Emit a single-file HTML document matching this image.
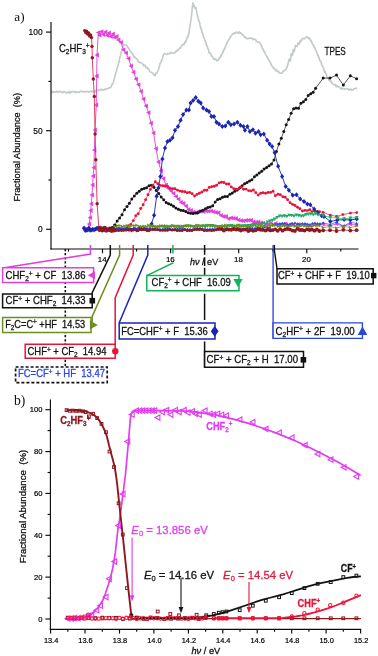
<!DOCTYPE html><html><head><meta charset="utf-8"><title>Fractional abundance</title>
<style>html,body{margin:0;padding:0;background:#fff}svg{display:block}text{font-family:"Liberation Sans", Arial, sans-serif}</style></head><body>
<svg width="378" height="656" viewBox="0 0 378 656">
<rect width="378" height="656" fill="#fff"/>
<path d="M51.0 92.0 L51.9 91.6 L52.8 92.6 L53.7 91.5 L54.6 92.3 L55.5 92.0 L56.4 91.4 L57.3 92.3 L58.2 91.4 L59.1 92.1 L60.0 91.4 L60.9 91.5 L61.8 92.1 L62.7 92.8 L63.6 91.5 L64.5 91.7 L65.4 92.4 L66.3 93.0 L67.2 92.3 L68.1 92.0 L69.0 93.1 L69.9 91.3 L70.8 92.8 L71.7 91.8 L72.6 91.5 L73.5 91.4 L74.4 91.8 L75.3 92.7 L76.2 91.5 L77.1 92.3 L78.0 92.4 L78.9 91.9 L79.8 92.2 L80.7 91.2 L81.6 91.2 L82.5 91.4 L83.4 92.2 L84.3 91.7 L85.2 91.4 L86.1 91.9 L87.0 91.6 L87.9 91.3 L88.8 92.1 L89.7 91.9 L90.6 91.0 L91.5 91.6 L92.4 91.4 L93.3 91.9 L94.2 91.5 L95.1 90.5 L96.0 91.7 L96.9 89.9 L97.8 90.4 L98.7 90.9 L99.6 89.6 L100.4 90.0 L101.3 89.0 L102.2 90.1 L103.1 90.1 L104.0 89.5 L104.8 89.8 L105.7 88.6 L106.6 89.1 L107.5 88.6 L108.3 88.4 L109.1 87.7 L109.8 87.9 L110.6 87.6 L111.3 86.1 L111.7 85.7 L112.1 83.7 L112.5 84.2 L112.9 83.3 L113.3 83.1 L113.6 81.9 L113.9 80.0 L114.1 79.4 L114.4 79.1 L114.7 77.0 L114.9 76.9 L115.1 75.5 L115.4 74.5 L115.6 73.5 L115.8 74.0 L116.0 71.9 L116.3 71.3 L116.5 70.7 L116.7 70.7 L116.9 68.3 L117.1 68.2 L117.4 67.5 L117.6 67.3 L117.9 66.3 L118.2 65.5 L118.4 63.5 L118.7 62.9 L118.9 62.0 L119.1 62.1 L119.3 61.3 L119.5 58.9 L119.7 58.1 L119.9 57.3 L120.1 56.4 L120.3 56.0 L120.5 55.4 L120.7 53.9 L120.9 52.5 L121.1 52.4 L121.4 51.4 L121.6 50.9 L121.8 50.8 L122.1 49.4 L122.3 48.2 L122.6 47.6 L122.8 46.8 L123.2 44.8 L123.7 45.7 L124.1 44.6 L124.8 44.8 L125.7 45.0 L126.2 44.9 L126.7 45.7 L127.2 45.9 L127.7 47.6 L128.2 47.3 L128.6 48.1 L129.0 49.2 L129.5 49.9 L129.9 51.0 L130.4 51.2 L131.0 51.8 L131.5 52.8 L132.1 53.4 L132.6 54.6 L133.2 54.7 L133.8 57.0 L134.4 57.2 L135.0 57.0 L135.6 57.8 L136.2 58.7 L136.9 59.3 L137.5 59.5 L138.1 61.5 L138.8 62.4 L139.5 62.0 L140.2 62.6 L140.8 62.5 L141.6 63.0 L142.3 64.0 L143.1 64.3 L143.8 65.9 L144.6 65.1 L145.3 65.4 L145.9 67.8 L146.6 67.6 L147.2 67.5 L147.8 68.9 L148.5 68.6 L149.1 70.2 L149.8 71.7 L150.4 72.1 L151.0 72.4 L151.7 72.2 L152.3 73.1 L152.9 73.3 L153.7 74.9 L154.5 74.9 L155.3 75.6 L155.7 74.0 L156.1 73.0 L156.6 73.3 L157.0 72.9 L157.4 71.8 L157.8 70.9 L158.2 70.1 L158.6 69.2 L159.0 67.4 L159.3 67.1 L159.6 65.9 L159.8 64.4 L160.1 63.6 L160.4 63.2 L160.6 62.3 L160.9 62.3 L161.2 61.9 L161.4 60.1 L161.8 60.2 L162.1 59.4 L162.5 58.5 L162.8 56.6 L163.2 55.5 L163.5 54.7 L163.9 53.8 L164.5 53.4 L165.4 54.1 L166.3 54.5 L167.2 54.2 L168.1 53.4 L169.0 53.6 L169.9 53.7 L170.8 52.2 L171.6 53.1 L172.5 53.4 L173.4 53.1 L174.3 52.9 L175.2 52.3 L175.9 51.1 L176.5 51.6 L177.2 50.1 L177.8 50.4 L178.5 50.1 L179.1 48.4 L179.8 47.8 L180.5 48.2 L181.1 47.2 L181.8 45.5 L182.4 44.8 L183.1 44.2 L183.7 45.0 L184.3 44.1 L184.8 42.1 L185.3 42.7 L185.8 42.2 L186.2 40.8 L186.5 39.4 L186.9 38.9 L187.3 37.3 L187.6 36.3 L187.9 37.2 L188.1 35.8 L188.4 34.7 L188.7 34.6 L188.9 32.8 L189.1 32.7 L189.2 31.7 L189.4 29.7 L189.5 28.9 L189.6 28.0 L189.8 27.1 L189.9 26.8 L190.0 25.3 L190.2 24.7 L190.3 23.3 L190.4 23.9 L190.6 21.9 L190.7 21.2 L190.8 20.6 L190.9 20.3 L191.1 18.5 L191.2 18.5 L191.3 16.8 L191.5 16.0 L191.6 15.1 L191.7 13.2 L191.8 13.2 L191.9 11.8 L192.0 10.5 L192.0 11.1 L192.1 9.1 L192.2 8.7 L192.3 8.3 L192.4 7.1 L192.5 5.8 L192.6 5.2 L192.7 4.4 L192.8 3.9 L192.9 2.7 L193.1 4.5 L193.3 4.8 L193.5 5.7 L193.8 6.5 L194.1 5.2 L194.4 5.8 L194.6 7.1 L194.8 8.2 L195.0 8.2 L195.4 8.2 L195.9 7.8 L196.1 8.7 L196.2 10.0 L196.4 10.4 L196.6 11.4 L196.8 12.2 L197.0 14.0 L197.2 14.4 L197.4 15.6 L197.6 16.6 L197.8 16.2 L198.0 17.6 L198.2 19.2 L198.5 19.9 L198.7 19.4 L198.9 20.3 L199.1 21.8 L199.4 21.9 L199.6 23.1 L199.9 23.7 L200.1 25.7 L200.4 26.7 L200.6 27.8 L200.9 27.3 L201.1 29.2 L201.4 30.0 L201.7 29.8 L201.9 32.1 L202.2 33.1 L202.5 32.6 L202.8 34.8 L203.1 34.6 L203.3 35.6 L203.6 37.4 L203.9 38.0 L204.2 37.6 L204.5 39.0 L204.8 40.0 L205.1 40.5 L205.3 41.1 L205.6 42.1 L205.9 43.8 L206.2 43.3 L206.5 45.2 L206.8 45.8 L207.2 45.8 L207.5 47.3 L207.8 48.6 L208.1 49.3 L208.5 49.3 L208.8 51.9 L209.1 52.3 L209.6 53.4 L210.0 52.6 L210.5 53.7 L210.9 54.0 L211.3 56.2 L211.9 56.0 L212.5 56.4 L213.1 57.6 L213.7 59.2 L214.3 59.7 L215.1 58.9 L216.0 59.1 L216.8 60.8 L217.7 60.4 L218.4 60.2 L218.9 58.3 L219.5 57.6 L220.0 58.0 L220.4 56.7 L220.9 55.3 L221.3 56.1 L221.7 54.8 L222.1 54.3 L222.5 52.1 L222.9 52.8 L223.3 50.4 L223.7 51.1 L224.1 49.5 L224.4 48.5 L224.8 48.1 L225.2 48.0 L225.6 45.9 L226.0 44.9 L226.4 44.8 L226.8 43.4 L227.2 42.4 L227.6 41.7 L228.0 40.7 L228.4 40.2 L228.9 39.6 L229.3 38.8 L229.7 38.8 L230.1 37.2 L230.7 36.9 L231.3 35.6 L231.9 35.2 L232.5 33.9 L233.2 33.8 L234.0 32.9 L234.7 33.8 L235.6 33.1 L236.4 32.1 L237.3 32.4 L238.2 33.3 L239.1 31.8 L240.0 33.2 L240.7 32.9 L241.4 33.6 L242.1 34.8 L242.8 34.6 L243.4 35.4 L244.1 36.4 L244.8 37.5 L245.4 36.9 L246.1 38.5 L246.9 38.6 L247.8 38.6 L248.7 38.4 L249.5 38.4 L250.4 38.0 L251.3 38.4 L252.2 38.4 L253.1 39.9 L254.0 39.1 L254.8 39.3 L255.6 39.5 L256.4 41.4 L257.2 41.8 L257.9 42.0 L258.6 41.8 L259.2 42.4 L259.9 43.1 L260.5 44.1 L260.9 44.3 L261.3 45.7 L261.7 46.1 L262.2 48.2 L262.6 49.0 L263.0 49.0 L263.4 49.3 L263.8 51.5 L264.1 51.0 L264.5 52.0 L264.9 52.1 L265.3 53.6 L265.7 54.6 L266.1 55.5 L266.5 55.7 L267.0 57.1 L267.4 56.9 L267.8 58.2 L268.2 58.7 L268.7 60.0 L269.1 60.1 L269.6 60.9 L270.0 62.2 L270.5 62.8 L271.0 64.3 L271.4 64.9 L271.9 66.1 L272.5 66.6 L273.1 67.4 L273.6 68.4 L274.2 68.2 L274.8 68.8 L275.5 70.6 L276.2 69.6 L276.9 71.2 L277.6 71.6 L278.4 71.0 L279.2 72.9 L280.0 73.4 L280.9 73.0 L281.7 73.1 L282.5 72.8 L283.2 70.9 L283.9 71.1 L284.5 70.4 L285.0 70.3 L285.6 69.6 L286.1 68.9 L286.7 67.7 L287.0 67.5 L287.3 66.2 L287.7 65.4 L288.0 63.7 L288.3 62.5 L288.5 61.8 L288.7 61.3 L288.9 60.0 L289.0 60.5 L289.2 59.0 L289.5 59.2 L289.8 60.0 L290.1 60.9 L290.4 60.5 L290.5 58.7 L290.6 59.3 L290.7 58.3 L290.9 57.0 L291.0 56.1 L291.1 55.5 L291.3 53.5 L291.5 55.0 L291.9 54.9 L292.2 55.4 L292.4 55.4 L292.5 55.4 L292.6 53.5 L292.8 53.7 L292.9 53.2 L293.0 51.4 L293.2 50.3 L293.3 49.6 L293.6 50.5 L294.0 51.5 L294.4 51.4 L294.5 50.6 L294.7 48.6 L294.9 47.9 L295.1 47.2 L295.2 47.2 L295.4 45.5 L295.8 46.1 L296.2 45.8 L296.7 46.6 L296.9 46.2 L297.2 46.1 L297.4 45.3 L297.7 44.4 L297.9 42.8 L298.5 43.5 L299.1 44.1 L299.5 43.4 L299.8 41.9 L300.1 42.5 L300.4 40.3 L300.9 41.1 L301.6 40.5 L302.4 38.3 L303.1 38.6 L303.9 38.8 L304.7 38.7 L305.5 37.4 L306.4 36.8 L307.2 36.7 L308.0 38.5 L308.8 37.6 L309.4 38.9 L310.0 38.8 L310.6 40.2 L311.1 41.8 L311.5 41.0 L311.9 43.1 L312.3 43.3 L312.8 44.8 L313.2 45.3 L313.6 45.2 L314.0 47.3 L314.3 47.3 L314.7 47.2 L315.1 48.0 L315.5 49.8 L315.9 50.5 L316.2 51.1 L316.6 51.6 L316.9 52.8 L317.3 53.6 L317.7 55.4 L318.0 54.6 L318.4 56.9 L318.8 57.9 L319.1 57.3 L319.5 59.7 L319.9 60.1 L320.2 61.3 L320.6 60.9 L320.9 61.9 L321.3 62.8 L321.6 64.8 L321.9 64.8 L322.2 65.3 L322.5 66.2 L322.9 66.8 L323.2 67.2 L323.5 68.1 L323.9 70.4 L324.2 70.1 L324.5 72.2 L325.0 71.7 L325.4 72.5 L325.8 73.8 L326.2 74.0 L326.6 75.2 L327.0 77.1 L327.5 77.7 L328.0 78.3 L328.5 78.7 L328.9 80.0 L329.4 80.8 L330.0 80.8 L330.7 81.7 L331.3 81.1 L331.9 83.1 L332.5 83.2 L333.2 84.4 L333.9 84.7 L334.7 84.5 L335.4 84.5 L336.2 86.7 L336.9 85.7 L337.8 86.7 L338.6 86.8 L339.4 87.0 L340.3 88.2 L341.1 89.0 L341.9 88.0 L342.8 88.9 L343.7 88.5 L344.6 89.2 L345.4 89.1 L346.3 88.8 L347.2 88.8 L348.1 88.9 L349.0 90.2 L349.9 89.5 L350.8 89.0 L351.7 90.2 L352.6 90.3 L353.5 89.2 L354.4 88.5 L355.3 88.5 L356.2 88.2 L357.1 88.6" fill="none" stroke="#c2cbc7" stroke-width="1.6" stroke-linejoin="round" />
<path d="M84.0 228.8 L85.2 229.4 L86.4 229.1 L87.6 229.1 L89.2 224.0 L90.0 217.7 L90.7 210.5 L91.3 203.8 L92.0 195.0 L92.6 185.0 L93.2 176.0 L93.8 167.7 L94.4 150.0 L95.0 130.0 L96.3 105.0 L96.7 76.0 L97.0 55.0 L98.3 32.6 L99.6 35.2 L101.6 31.6 L103.4 34.6 L105.4 31.9 L107.3 35.6 L109.0 33.0 L110.9 36.6 L112.9 34.0 L114.6 37.4 L116.6 36.4 L118.5 40.0 L121.0 42.4 L123.5 49.8 L126.0 52.9 L128.5 58.5 L131.0 66.0 L133.5 72.2 L136.0 78.9 L138.5 84.7 L141.0 91.3 L143.5 98.9 L146.0 106.0 L148.5 112.6 L151.0 123.2 L153.5 132.9 L156.0 148.6 L158.5 162.0 L161.0 170.7 L163.5 178.6 L166.0 184.9 L168.5 188.4 L171.0 190.9 L173.5 193.4 L176.0 196.4 L178.5 199.2 L181.0 202.3 L183.5 203.5 L186.0 206.1 L188.5 209.5 L191.0 210.4 L193.5 212.0 L196.0 212.7 L198.5 211.3 L201.0 211.1 L203.5 211.6 L206.0 211.0 L208.5 211.3 L211.0 210.9 L213.5 211.7 L216.0 212.5 L218.5 212.7 L221.0 215.4 L223.5 216.5 L226.0 216.5 L228.5 218.7 L231.0 217.9 L233.5 218.3 L236.0 218.5 L238.5 219.9 L241.0 220.6 L243.5 220.8 L246.0 220.3 L248.5 220.3 L251.0 220.2 L253.5 221.8 L256.0 222.1 L258.5 222.0 L261.0 223.0 L263.5 222.8 L266.0 224.0 L268.5 223.8 L271.0 223.0 L273.5 224.5 L276.0 222.9 L278.5 224.1 L281.0 224.0 L283.5 223.8 L286.0 223.5 L288.5 225.1 L291.0 223.6 L293.5 224.8 L296.0 225.7 L298.5 224.2 L301.0 224.4 L303.5 225.3 L306.0 225.1 L308.5 225.5 L311.0 225.9 L313.5 224.6 L316.0 224.9 L318.5 225.0 L323.2 224.6 L330.0 225.8 L336.5 224.0 L343.3 226.0 L350.3 224.4 L356.6 225.0" fill="none" stroke="#e23fdc" stroke-width="0.9" stroke-linejoin="round" />
<g><path d="M81.6 228.8 L85.9 226.4 L85.9 231.2Z" fill="#e23fdc"/><path d="M82.8 229.4 L87.1 227.0 L87.1 231.8Z" fill="#e23fdc"/><path d="M84.0 229.1 L88.3 226.7 L88.3 231.5Z" fill="#e23fdc"/><path d="M85.2 229.1 L89.5 226.7 L89.5 231.5Z" fill="#e23fdc"/><path d="M86.8 224.0 L91.1 221.6 L91.1 226.4Z" fill="#e23fdc"/><path d="M87.6 217.7 L91.9 215.3 L91.9 220.1Z" fill="#e23fdc"/><path d="M88.3 210.5 L92.6 208.1 L92.6 212.9Z" fill="#e23fdc"/><path d="M88.9 203.8 L93.2 201.4 L93.2 206.2Z" fill="#e23fdc"/><path d="M89.6 195.0 L93.9 192.6 L93.9 197.4Z" fill="#e23fdc"/><path d="M90.2 185.0 L94.5 182.6 L94.5 187.4Z" fill="#e23fdc"/><path d="M90.8 176.0 L95.1 173.6 L95.1 178.4Z" fill="#e23fdc"/><path d="M91.4 167.7 L95.7 165.3 L95.7 170.1Z" fill="#e23fdc"/><path d="M92.0 150.0 L96.3 147.6 L96.3 152.4Z" fill="#e23fdc"/><path d="M92.6 130.0 L96.9 127.6 L96.9 132.4Z" fill="#e23fdc"/><path d="M93.9 105.0 L98.2 102.6 L98.2 107.4Z" fill="#e23fdc"/><path d="M94.3 76.0 L98.6 73.6 L98.6 78.4Z" fill="#e23fdc"/><path d="M94.6 55.0 L98.9 52.6 L98.9 57.4Z" fill="#e23fdc"/><path d="M95.9 32.6 L100.2 30.2 L100.2 35.0Z" fill="#e23fdc"/><path d="M97.2 35.2 L101.5 32.8 L101.5 37.6Z" fill="#e23fdc"/><path d="M99.2 31.6 L103.5 29.2 L103.5 34.0Z" fill="#e23fdc"/><path d="M101.0 34.6 L105.3 32.2 L105.3 37.0Z" fill="#e23fdc"/><path d="M103.0 31.9 L107.3 29.5 L107.3 34.3Z" fill="#e23fdc"/><path d="M104.9 35.6 L109.2 33.2 L109.2 38.0Z" fill="#e23fdc"/><path d="M106.6 33.0 L110.9 30.6 L110.9 35.4Z" fill="#e23fdc"/><path d="M108.5 36.6 L112.8 34.2 L112.8 39.0Z" fill="#e23fdc"/><path d="M110.5 34.0 L114.8 31.6 L114.8 36.4Z" fill="#e23fdc"/><path d="M112.2 37.4 L116.5 35.0 L116.5 39.8Z" fill="#e23fdc"/><path d="M114.2 36.4 L118.5 34.0 L118.5 38.8Z" fill="#e23fdc"/><path d="M116.1 40.0 L120.4 37.6 L120.4 42.4Z" fill="#e23fdc"/><path d="M118.6 42.4 L122.9 40.0 L122.9 44.8Z" fill="#e23fdc"/><path d="M121.1 49.8 L125.4 47.4 L125.4 52.2Z" fill="#e23fdc"/><path d="M123.6 52.9 L127.9 50.5 L127.9 55.3Z" fill="#e23fdc"/><path d="M126.1 58.5 L130.4 56.1 L130.4 60.9Z" fill="#e23fdc"/><path d="M128.6 66.0 L132.9 63.6 L132.9 68.4Z" fill="#e23fdc"/><path d="M131.1 72.2 L135.4 69.8 L135.4 74.6Z" fill="#e23fdc"/><path d="M133.6 78.9 L137.9 76.5 L137.9 81.3Z" fill="#e23fdc"/><path d="M136.1 84.7 L140.4 82.3 L140.4 87.1Z" fill="#e23fdc"/><path d="M138.6 91.3 L142.9 88.9 L142.9 93.7Z" fill="#e23fdc"/><path d="M141.1 98.9 L145.4 96.5 L145.4 101.3Z" fill="#e23fdc"/><path d="M143.6 106.0 L147.9 103.6 L147.9 108.4Z" fill="#e23fdc"/><path d="M146.1 112.6 L150.4 110.2 L150.4 115.0Z" fill="#e23fdc"/><path d="M148.6 123.2 L152.9 120.8 L152.9 125.6Z" fill="#e23fdc"/><path d="M151.1 132.9 L155.4 130.5 L155.4 135.3Z" fill="#e23fdc"/><path d="M153.6 148.6 L157.9 146.2 L157.9 151.0Z" fill="#e23fdc"/><path d="M156.1 162.0 L160.4 159.6 L160.4 164.4Z" fill="#e23fdc"/><path d="M158.6 170.7 L162.9 168.3 L162.9 173.1Z" fill="#e23fdc"/><path d="M161.1 178.6 L165.4 176.2 L165.4 181.0Z" fill="#e23fdc"/><path d="M163.6 184.9 L167.9 182.5 L167.9 187.3Z" fill="#e23fdc"/><path d="M166.1 188.4 L170.4 186.0 L170.4 190.8Z" fill="#e23fdc"/><path d="M168.6 190.9 L172.9 188.5 L172.9 193.3Z" fill="#e23fdc"/><path d="M171.1 193.4 L175.4 191.0 L175.4 195.8Z" fill="#e23fdc"/><path d="M173.6 196.4 L177.9 194.0 L177.9 198.8Z" fill="#e23fdc"/><path d="M176.1 199.2 L180.4 196.8 L180.4 201.6Z" fill="#e23fdc"/><path d="M178.6 202.3 L182.9 199.9 L182.9 204.7Z" fill="#e23fdc"/><path d="M181.1 203.5 L185.4 201.1 L185.4 205.9Z" fill="#e23fdc"/><path d="M183.6 206.1 L187.9 203.7 L187.9 208.5Z" fill="#e23fdc"/><path d="M186.1 209.5 L190.4 207.1 L190.4 211.9Z" fill="#e23fdc"/><path d="M188.6 210.4 L192.9 208.0 L192.9 212.8Z" fill="#e23fdc"/><path d="M191.1 212.0 L195.4 209.6 L195.4 214.4Z" fill="#e23fdc"/><path d="M193.6 212.7 L197.9 210.3 L197.9 215.1Z" fill="#e23fdc"/><path d="M196.1 211.3 L200.4 208.9 L200.4 213.7Z" fill="#e23fdc"/><path d="M198.6 211.1 L202.9 208.7 L202.9 213.5Z" fill="#e23fdc"/><path d="M201.1 211.6 L205.4 209.2 L205.4 214.0Z" fill="#e23fdc"/><path d="M203.6 211.0 L207.9 208.6 L207.9 213.4Z" fill="#e23fdc"/><path d="M206.1 211.3 L210.4 208.9 L210.4 213.7Z" fill="#e23fdc"/><path d="M208.6 210.9 L212.9 208.5 L212.9 213.3Z" fill="#e23fdc"/><path d="M211.1 211.7 L215.4 209.3 L215.4 214.1Z" fill="#e23fdc"/><path d="M213.6 212.5 L217.9 210.1 L217.9 214.9Z" fill="#e23fdc"/><path d="M216.1 212.7 L220.4 210.3 L220.4 215.1Z" fill="#e23fdc"/><path d="M218.6 215.4 L222.9 213.0 L222.9 217.8Z" fill="#e23fdc"/><path d="M221.1 216.5 L225.4 214.1 L225.4 218.9Z" fill="#e23fdc"/><path d="M223.6 216.5 L227.9 214.1 L227.9 218.9Z" fill="#e23fdc"/><path d="M226.1 218.7 L230.4 216.3 L230.4 221.1Z" fill="#e23fdc"/><path d="M228.6 217.9 L232.9 215.5 L232.9 220.3Z" fill="#e23fdc"/><path d="M231.1 218.3 L235.4 215.9 L235.4 220.7Z" fill="#e23fdc"/><path d="M233.6 218.5 L237.9 216.1 L237.9 220.9Z" fill="#e23fdc"/><path d="M236.1 219.9 L240.4 217.5 L240.4 222.3Z" fill="#e23fdc"/><path d="M238.6 220.6 L242.9 218.2 L242.9 223.0Z" fill="#e23fdc"/><path d="M241.1 220.8 L245.4 218.4 L245.4 223.2Z" fill="#e23fdc"/><path d="M243.6 220.3 L247.9 217.9 L247.9 222.7Z" fill="#e23fdc"/><path d="M246.1 220.3 L250.4 217.9 L250.4 222.7Z" fill="#e23fdc"/><path d="M248.6 220.2 L252.9 217.8 L252.9 222.6Z" fill="#e23fdc"/><path d="M251.1 221.8 L255.4 219.4 L255.4 224.2Z" fill="#e23fdc"/><path d="M253.6 222.1 L257.9 219.7 L257.9 224.5Z" fill="#e23fdc"/><path d="M256.1 222.0 L260.4 219.6 L260.4 224.4Z" fill="#e23fdc"/><path d="M258.6 223.0 L262.9 220.6 L262.9 225.4Z" fill="#e23fdc"/></g>
<g><path d="M261.6 222.8 L265.0 220.9 L265.0 224.7Z" fill="#e23fdc"/><path d="M264.1 224.0 L267.5 222.1 L267.5 225.9Z" fill="#e23fdc"/><path d="M266.6 223.8 L270.0 221.9 L270.0 225.7Z" fill="#e23fdc"/><path d="M269.1 223.0 L272.5 221.1 L272.5 224.9Z" fill="#e23fdc"/><path d="M271.6 224.5 L275.0 222.6 L275.0 226.4Z" fill="#e23fdc"/><path d="M274.1 222.9 L277.5 221.0 L277.5 224.8Z" fill="#e23fdc"/><path d="M276.6 224.1 L280.0 222.2 L280.0 226.0Z" fill="#e23fdc"/><path d="M279.1 224.0 L282.5 222.1 L282.5 225.9Z" fill="#e23fdc"/><path d="M281.6 223.8 L285.0 221.9 L285.0 225.7Z" fill="#e23fdc"/><path d="M284.1 223.5 L287.5 221.6 L287.5 225.4Z" fill="#e23fdc"/><path d="M286.6 225.1 L290.0 223.2 L290.0 227.0Z" fill="#e23fdc"/><path d="M289.1 223.6 L292.5 221.7 L292.5 225.5Z" fill="#e23fdc"/><path d="M291.6 224.8 L295.0 222.9 L295.0 226.7Z" fill="#e23fdc"/><path d="M294.1 225.7 L297.5 223.8 L297.5 227.6Z" fill="#e23fdc"/><path d="M296.6 224.2 L300.0 222.3 L300.0 226.1Z" fill="#e23fdc"/><path d="M299.1 224.4 L302.5 222.5 L302.5 226.3Z" fill="#e23fdc"/><path d="M301.6 225.3 L305.0 223.4 L305.0 227.2Z" fill="#e23fdc"/><path d="M304.1 225.1 L307.5 223.2 L307.5 227.0Z" fill="#e23fdc"/><path d="M306.6 225.5 L310.0 223.6 L310.0 227.4Z" fill="#e23fdc"/><path d="M309.1 225.9 L312.5 224.0 L312.5 227.8Z" fill="#e23fdc"/><path d="M311.6 224.6 L315.0 222.7 L315.0 226.5Z" fill="#e23fdc"/><path d="M314.1 224.9 L317.5 223.0 L317.5 226.8Z" fill="#e23fdc"/><path d="M316.6 225.0 L320.0 223.1 L320.0 226.9Z" fill="#e23fdc"/><path d="M321.3 224.6 L324.7 222.7 L324.7 226.5Z" fill="#e23fdc"/><path d="M328.1 225.8 L331.5 223.9 L331.5 227.7Z" fill="#e23fdc"/><path d="M334.6 224.0 L338.0 222.1 L338.0 225.9Z" fill="#e23fdc"/><path d="M341.4 226.0 L344.8 224.1 L344.8 227.9Z" fill="#e23fdc"/><path d="M348.4 224.4 L351.8 222.5 L351.8 226.3Z" fill="#e23fdc"/><path d="M354.7 225.0 L358.1 223.1 L358.1 226.9Z" fill="#e23fdc"/></g>
<path d="M100.0 229.0 L102.5 229.7 L104.9 229.2 L107.3 229.5 L109.8 228.1 L112.2 227.6 L114.7 225.1 L117.2 220.9 L119.6 218.0 L122.0 214.7 L124.5 209.7 L127.0 206.6 L129.4 203.3 L131.8 198.9 L134.3 195.9 L136.8 193.2 L139.2 191.2 L141.7 189.2 L144.1 188.6 L146.6 187.7 L149.0 185.8 L151.4 185.2 L153.9 187.3 L156.3 190.5 L158.8 193.6 L161.2 197.1 L163.7 199.7 L166.2 202.5 L168.6 203.7 L171.1 204.7 L173.5 206.2 L175.9 207.9 L178.4 209.3 L180.9 210.3 L183.3 210.6 L185.8 211.5 L188.2 212.8 L190.7 213.3 L193.1 213.6 L195.6 212.9 L198.0 212.7 L200.4 211.2 L202.9 210.2 L205.4 208.7 L207.8 207.6 L210.2 206.9 L212.7 205.8 L215.2 202.0 L217.6 199.4 L220.1 198.7 L222.5 197.2 L224.9 196.4 L227.4 196.4 L229.9 194.3 L232.3 193.1 L234.8 191.2 L237.2 190.1 L239.7 187.8 L242.1 185.7 L244.6 183.8 L247.0 182.6 L249.5 181.1 L251.9 179.8 L254.4 176.8 L256.8 175.1 L259.2 173.0 L261.7 171.3 L264.1 169.1 L266.6 167.4 L269.1 165.8 L271.5 164.0 L274.0 160.0 L276.4 151.5 L278.9 144.1 L281.3 138.2 L283.8 131.6 L286.2 124.7 L288.6 119.6 L291.1 113.3 L293.6 108.8 L296.0 108.0 L298.5 108.3 L300.9 103.2 L303.4 101.7 L305.8 99.5 L308.2 95.5 L310.7 93.7 L313.1 92.2 L315.6 88.3 L323.2 78.1 L330.0 78.1 L336.5 75.1 L343.3 85.1 L350.3 75.8 L356.6 78.8" fill="none" stroke="#141414" stroke-width="0.7" stroke-linejoin="round" />
<g><circle cx="100.0" cy="229.0" r="1.50" fill="#141414"/><circle cx="102.5" cy="229.7" r="1.50" fill="#141414"/><circle cx="104.9" cy="229.2" r="1.50" fill="#141414"/><circle cx="107.3" cy="229.5" r="1.50" fill="#141414"/><circle cx="109.8" cy="228.1" r="1.50" fill="#141414"/><circle cx="112.2" cy="227.6" r="1.50" fill="#141414"/><circle cx="114.7" cy="225.1" r="1.50" fill="#141414"/><circle cx="117.2" cy="220.9" r="1.50" fill="#141414"/><circle cx="119.6" cy="218.0" r="1.50" fill="#141414"/><circle cx="122.0" cy="214.7" r="1.50" fill="#141414"/><circle cx="124.5" cy="209.7" r="1.50" fill="#141414"/><circle cx="127.0" cy="206.6" r="1.50" fill="#141414"/><circle cx="129.4" cy="203.3" r="1.50" fill="#141414"/><circle cx="131.8" cy="198.9" r="1.50" fill="#141414"/><circle cx="134.3" cy="195.9" r="1.50" fill="#141414"/><circle cx="136.8" cy="193.2" r="1.50" fill="#141414"/><circle cx="139.2" cy="191.2" r="1.50" fill="#141414"/><circle cx="141.7" cy="189.2" r="1.50" fill="#141414"/><circle cx="144.1" cy="188.6" r="1.50" fill="#141414"/><circle cx="146.6" cy="187.7" r="1.50" fill="#141414"/><circle cx="149.0" cy="185.8" r="1.50" fill="#141414"/><circle cx="151.4" cy="185.2" r="1.50" fill="#141414"/><circle cx="153.9" cy="187.3" r="1.50" fill="#141414"/><circle cx="156.3" cy="190.5" r="1.50" fill="#141414"/><circle cx="158.8" cy="193.6" r="1.50" fill="#141414"/><circle cx="161.2" cy="197.1" r="1.50" fill="#141414"/><circle cx="163.7" cy="199.7" r="1.50" fill="#141414"/><circle cx="166.2" cy="202.5" r="1.50" fill="#141414"/><circle cx="168.6" cy="203.7" r="1.50" fill="#141414"/><circle cx="171.1" cy="204.7" r="1.50" fill="#141414"/><circle cx="173.5" cy="206.2" r="1.50" fill="#141414"/><circle cx="175.9" cy="207.9" r="1.50" fill="#141414"/><circle cx="178.4" cy="209.3" r="1.50" fill="#141414"/><circle cx="180.9" cy="210.3" r="1.50" fill="#141414"/><circle cx="183.3" cy="210.6" r="1.50" fill="#141414"/><circle cx="185.8" cy="211.5" r="1.50" fill="#141414"/><circle cx="188.2" cy="212.8" r="1.50" fill="#141414"/><circle cx="190.7" cy="213.3" r="1.50" fill="#141414"/><circle cx="193.1" cy="213.6" r="1.50" fill="#141414"/><circle cx="195.6" cy="212.9" r="1.50" fill="#141414"/><circle cx="198.0" cy="212.7" r="1.50" fill="#141414"/><circle cx="200.4" cy="211.2" r="1.50" fill="#141414"/><circle cx="202.9" cy="210.2" r="1.50" fill="#141414"/><circle cx="205.4" cy="208.7" r="1.50" fill="#141414"/><circle cx="207.8" cy="207.6" r="1.50" fill="#141414"/><circle cx="210.2" cy="206.9" r="1.50" fill="#141414"/><circle cx="212.7" cy="205.8" r="1.50" fill="#141414"/><circle cx="215.2" cy="202.0" r="1.50" fill="#141414"/><circle cx="217.6" cy="199.4" r="1.50" fill="#141414"/><circle cx="220.1" cy="198.7" r="1.50" fill="#141414"/><circle cx="222.5" cy="197.2" r="1.50" fill="#141414"/><circle cx="224.9" cy="196.4" r="1.50" fill="#141414"/><circle cx="227.4" cy="196.4" r="1.50" fill="#141414"/><circle cx="229.9" cy="194.3" r="1.50" fill="#141414"/><circle cx="232.3" cy="193.1" r="1.50" fill="#141414"/><circle cx="234.8" cy="191.2" r="1.50" fill="#141414"/><circle cx="237.2" cy="190.1" r="1.50" fill="#141414"/><circle cx="239.7" cy="187.8" r="1.50" fill="#141414"/><circle cx="242.1" cy="185.7" r="1.50" fill="#141414"/><circle cx="244.6" cy="183.8" r="1.50" fill="#141414"/><circle cx="247.0" cy="182.6" r="1.50" fill="#141414"/><circle cx="249.5" cy="181.1" r="1.50" fill="#141414"/><circle cx="251.9" cy="179.8" r="1.50" fill="#141414"/><circle cx="254.4" cy="176.8" r="1.50" fill="#141414"/><circle cx="256.8" cy="175.1" r="1.50" fill="#141414"/><circle cx="259.2" cy="173.0" r="1.50" fill="#141414"/><circle cx="261.7" cy="171.3" r="1.50" fill="#141414"/><circle cx="264.1" cy="169.1" r="1.50" fill="#141414"/><circle cx="266.6" cy="167.4" r="1.50" fill="#141414"/><circle cx="269.1" cy="165.8" r="1.50" fill="#141414"/><circle cx="271.5" cy="164.0" r="1.50" fill="#141414"/><circle cx="274.0" cy="160.0" r="1.50" fill="#141414"/><circle cx="276.4" cy="151.5" r="1.50" fill="#141414"/><circle cx="278.9" cy="144.1" r="1.50" fill="#141414"/><circle cx="281.3" cy="138.2" r="1.50" fill="#141414"/><circle cx="283.8" cy="131.6" r="1.50" fill="#141414"/><circle cx="286.2" cy="124.7" r="1.50" fill="#141414"/><circle cx="288.6" cy="119.6" r="1.50" fill="#141414"/><circle cx="291.1" cy="113.3" r="1.50" fill="#141414"/><circle cx="293.6" cy="108.8" r="1.50" fill="#141414"/><circle cx="296.0" cy="108.0" r="1.50" fill="#141414"/><circle cx="298.5" cy="108.3" r="1.50" fill="#141414"/><circle cx="300.9" cy="103.2" r="1.50" fill="#141414"/><circle cx="303.4" cy="101.7" r="1.50" fill="#141414"/><circle cx="305.8" cy="99.5" r="1.50" fill="#141414"/><circle cx="308.2" cy="95.5" r="1.50" fill="#141414"/><circle cx="310.7" cy="93.7" r="1.50" fill="#141414"/><circle cx="313.1" cy="92.2" r="1.50" fill="#141414"/><circle cx="315.6" cy="88.3" r="1.50" fill="#141414"/><circle cx="323.2" cy="78.1" r="1.50" fill="#141414"/><circle cx="330.0" cy="78.1" r="1.50" fill="#141414"/><circle cx="336.5" cy="75.1" r="1.50" fill="#141414"/><circle cx="343.3" cy="85.1" r="1.50" fill="#141414"/><circle cx="350.3" cy="75.8" r="1.50" fill="#141414"/><circle cx="356.6" cy="78.8" r="1.50" fill="#141414"/></g>
<path d="M99.0 229.3 L101.5 230.1 L103.9 230.0 L106.3 228.8 L108.8 228.9 L111.2 229.2 L113.7 229.4 L116.2 229.1 L118.6 228.6 L121.0 228.8 L123.5 229.6 L126.0 229.2 L128.4 225.8 L130.8 224.4 L133.3 220.6 L135.8 215.8 L138.2 213.8 L140.7 208.5 L143.1 204.8 L145.6 199.8 L148.0 194.8 L150.4 189.4 L152.9 185.3 L155.3 181.7 L157.8 183.7 L160.2 185.4 L162.7 185.8 L165.2 186.3 L167.6 186.5 L170.1 188.4 L172.5 188.7 L174.9 188.7 L177.4 190.1 L179.9 191.1 L182.3 191.5 L184.8 191.8 L187.2 192.7 L189.7 192.4 L192.1 193.8 L194.6 196.0 L197.0 194.4 L199.4 193.2 L201.9 192.0 L204.4 190.2 L206.8 190.2 L209.2 187.4 L211.7 186.8 L214.2 186.3 L216.6 185.2 L219.1 182.9 L221.5 182.2 L223.9 182.5 L226.4 184.0 L228.9 184.0 L231.3 186.9 L233.8 188.8 L236.2 189.3 L238.7 188.9 L241.1 187.3 L243.6 189.2 L246.0 189.1 L248.5 190.6 L250.9 190.9 L253.4 190.0 L255.8 192.6 L258.2 195.0 L260.7 193.2 L263.1 192.7 L265.6 193.3 L268.1 192.5 L270.5 192.4 L273.0 191.2 L275.4 195.7 L277.9 194.3 L280.3 194.8 L282.8 196.7 L285.2 197.2 L287.6 199.7 L290.1 202.7 L292.6 204.4 L295.0 205.5 L297.5 207.3 L299.9 208.7 L302.4 211.0 L304.8 210.4 L307.2 210.6 L309.7 209.7 L312.1 211.6 L314.6 210.9 L317.1 211.5 L319.5 211.6 L323.2 212.4 L330.3 215.1 L336.6 216.4 L342.9 214.6 L350.4 213.1 L356.7 212.6" fill="none" stroke="#e81438" stroke-width="0.7" stroke-linejoin="round" />
<g><circle cx="99.0" cy="229.3" r="1.45" fill="#e81438"/><circle cx="101.5" cy="230.1" r="1.45" fill="#e81438"/><circle cx="103.9" cy="230.0" r="1.45" fill="#e81438"/><circle cx="106.3" cy="228.8" r="1.45" fill="#e81438"/><circle cx="108.8" cy="228.9" r="1.45" fill="#e81438"/><circle cx="111.2" cy="229.2" r="1.45" fill="#e81438"/><circle cx="113.7" cy="229.4" r="1.45" fill="#e81438"/><circle cx="116.2" cy="229.1" r="1.45" fill="#e81438"/><circle cx="118.6" cy="228.6" r="1.45" fill="#e81438"/><circle cx="121.0" cy="228.8" r="1.45" fill="#e81438"/><circle cx="123.5" cy="229.6" r="1.45" fill="#e81438"/><circle cx="126.0" cy="229.2" r="1.45" fill="#e81438"/><circle cx="128.4" cy="225.8" r="1.45" fill="#e81438"/><circle cx="130.8" cy="224.4" r="1.45" fill="#e81438"/><circle cx="133.3" cy="220.6" r="1.45" fill="#e81438"/><circle cx="135.8" cy="215.8" r="1.45" fill="#e81438"/><circle cx="138.2" cy="213.8" r="1.45" fill="#e81438"/><circle cx="140.7" cy="208.5" r="1.45" fill="#e81438"/><circle cx="143.1" cy="204.8" r="1.45" fill="#e81438"/><circle cx="145.6" cy="199.8" r="1.45" fill="#e81438"/><circle cx="148.0" cy="194.8" r="1.45" fill="#e81438"/><circle cx="150.4" cy="189.4" r="1.45" fill="#e81438"/><circle cx="152.9" cy="185.3" r="1.45" fill="#e81438"/><circle cx="155.3" cy="181.7" r="1.45" fill="#e81438"/><circle cx="157.8" cy="183.7" r="1.45" fill="#e81438"/><circle cx="160.2" cy="185.4" r="1.45" fill="#e81438"/><circle cx="162.7" cy="185.8" r="1.45" fill="#e81438"/><circle cx="165.2" cy="186.3" r="1.45" fill="#e81438"/><circle cx="167.6" cy="186.5" r="1.45" fill="#e81438"/><circle cx="170.1" cy="188.4" r="1.45" fill="#e81438"/><circle cx="172.5" cy="188.7" r="1.45" fill="#e81438"/><circle cx="174.9" cy="188.7" r="1.45" fill="#e81438"/><circle cx="177.4" cy="190.1" r="1.45" fill="#e81438"/><circle cx="179.9" cy="191.1" r="1.45" fill="#e81438"/><circle cx="182.3" cy="191.5" r="1.45" fill="#e81438"/><circle cx="184.8" cy="191.8" r="1.45" fill="#e81438"/><circle cx="187.2" cy="192.7" r="1.45" fill="#e81438"/><circle cx="189.7" cy="192.4" r="1.45" fill="#e81438"/><circle cx="192.1" cy="193.8" r="1.45" fill="#e81438"/><circle cx="194.6" cy="196.0" r="1.45" fill="#e81438"/><circle cx="197.0" cy="194.4" r="1.45" fill="#e81438"/><circle cx="199.4" cy="193.2" r="1.45" fill="#e81438"/><circle cx="201.9" cy="192.0" r="1.45" fill="#e81438"/><circle cx="204.4" cy="190.2" r="1.45" fill="#e81438"/><circle cx="206.8" cy="190.2" r="1.45" fill="#e81438"/><circle cx="209.2" cy="187.4" r="1.45" fill="#e81438"/><circle cx="211.7" cy="186.8" r="1.45" fill="#e81438"/><circle cx="214.2" cy="186.3" r="1.45" fill="#e81438"/><circle cx="216.6" cy="185.2" r="1.45" fill="#e81438"/><circle cx="219.1" cy="182.9" r="1.45" fill="#e81438"/><circle cx="221.5" cy="182.2" r="1.45" fill="#e81438"/><circle cx="223.9" cy="182.5" r="1.45" fill="#e81438"/><circle cx="226.4" cy="184.0" r="1.45" fill="#e81438"/><circle cx="228.9" cy="184.0" r="1.45" fill="#e81438"/><circle cx="231.3" cy="186.9" r="1.45" fill="#e81438"/><circle cx="233.8" cy="188.8" r="1.45" fill="#e81438"/><circle cx="236.2" cy="189.3" r="1.45" fill="#e81438"/><circle cx="238.7" cy="188.9" r="1.45" fill="#e81438"/><circle cx="241.1" cy="187.3" r="1.45" fill="#e81438"/><circle cx="243.6" cy="189.2" r="1.45" fill="#e81438"/><circle cx="246.0" cy="189.1" r="1.45" fill="#e81438"/><circle cx="248.5" cy="190.6" r="1.45" fill="#e81438"/><circle cx="250.9" cy="190.9" r="1.45" fill="#e81438"/><circle cx="253.4" cy="190.0" r="1.45" fill="#e81438"/><circle cx="255.8" cy="192.6" r="1.45" fill="#e81438"/><circle cx="258.2" cy="195.0" r="1.45" fill="#e81438"/><circle cx="260.7" cy="193.2" r="1.45" fill="#e81438"/><circle cx="263.1" cy="192.7" r="1.45" fill="#e81438"/><circle cx="265.6" cy="193.3" r="1.45" fill="#e81438"/><circle cx="268.1" cy="192.5" r="1.45" fill="#e81438"/><circle cx="270.5" cy="192.4" r="1.45" fill="#e81438"/><circle cx="273.0" cy="191.2" r="1.45" fill="#e81438"/><circle cx="275.4" cy="195.7" r="1.45" fill="#e81438"/><circle cx="277.9" cy="194.3" r="1.45" fill="#e81438"/><circle cx="280.3" cy="194.8" r="1.45" fill="#e81438"/><circle cx="282.8" cy="196.7" r="1.45" fill="#e81438"/><circle cx="285.2" cy="197.2" r="1.45" fill="#e81438"/><circle cx="287.6" cy="199.7" r="1.45" fill="#e81438"/><circle cx="290.1" cy="202.7" r="1.45" fill="#e81438"/><circle cx="292.6" cy="204.4" r="1.45" fill="#e81438"/><circle cx="295.0" cy="205.5" r="1.45" fill="#e81438"/><circle cx="297.5" cy="207.3" r="1.45" fill="#e81438"/><circle cx="299.9" cy="208.7" r="1.45" fill="#e81438"/><circle cx="302.4" cy="211.0" r="1.45" fill="#e81438"/><circle cx="304.8" cy="210.4" r="1.45" fill="#e81438"/><circle cx="307.2" cy="210.6" r="1.45" fill="#e81438"/><circle cx="309.7" cy="209.7" r="1.45" fill="#e81438"/><circle cx="312.1" cy="211.6" r="1.45" fill="#e81438"/><circle cx="314.6" cy="210.9" r="1.45" fill="#e81438"/><circle cx="317.1" cy="211.5" r="1.45" fill="#e81438"/><circle cx="319.5" cy="211.6" r="1.45" fill="#e81438"/><circle cx="323.2" cy="212.4" r="1.45" fill="#e81438"/><circle cx="330.3" cy="215.1" r="1.45" fill="#e81438"/><circle cx="336.6" cy="216.4" r="1.45" fill="#e81438"/><circle cx="342.9" cy="214.6" r="1.45" fill="#e81438"/><circle cx="350.4" cy="213.1" r="1.45" fill="#e81438"/><circle cx="356.7" cy="212.6" r="1.45" fill="#e81438"/></g>
<path d="M84.0 228.0 L85.2 230.4 L86.5 230.1 L87.8 229.9 L89.0 227.9 L90.2 230.3 L91.5 230.0 L92.8 229.2 L94.0 230.0 L95.2 229.2 L96.5 228.5 L97.8 228.2 L99.0 228.6 L100.2 228.0 L101.5 229.0 L104.0 229.7 L106.5 229.6 L109.0 229.9 L111.5 229.6 L114.0 228.9 L116.5 229.4 L119.0 229.2 L121.5 229.8 L124.0 229.3 L126.5 228.9 L129.0 229.5 L131.5 230.0 L134.0 228.8 L136.5 229.9 L139.0 228.5 L141.5 228.9 L144.0 228.9 L146.5 229.7 L149.0 230.0 L151.6 224.0 L154.1 215.2 L156.6 196.3 L158.4 188.0 L160.4 176.5 L162.4 159.0 L165.0 148.0 L167.5 141.5 L170.0 140.3 L172.5 137.8 L175.0 130.2 L178.0 126.5 L180.6 120.2 L183.1 114.6 L186.4 110.1 L188.9 110.1 L190.6 103.1 L193.1 100.6 L195.7 97.6 L198.4 101.3 L200.7 103.1 L203.2 108.1 L206.5 110.1 L209.0 111.4 L211.5 116.4 L214.0 116.4 L216.5 122.2 L219.0 124.0 L222.3 126.5 L225.3 126.0 L228.3 122.2 L230.8 124.7 L234.1 124.0 L237.4 122.2 L240.4 125.2 L243.4 126.5 L244.9 130.2 L247.4 126.5 L249.9 131.5 L252.9 129.8 L255.5 133.3 L258.5 131.5 L260.6 134.7 L263.8 133.9 L267.1 140.2 L269.6 144.0 L272.1 146.5 L274.6 152.8 L278.1 166.3 L282.1 176.4 L285.7 186.4 L288.9 190.2 L292.7 195.2 L296.5 194.7 L300.2 199.0 L304.0 201.5 L307.3 204.0 L310.3 204.8 L314.1 209.0 L317.8 212.8 L321.6 215.8 L324.0 216.4 L330.3 221.4 L337.3 220.1 L344.1 219.6 L350.4 220.1 L356.7 218.9" fill="none" stroke="#1a26b0" stroke-width="0.9" stroke-linejoin="round" />
<g><path d="M84.0 225.6 L86.0 228.0 L84.0 230.5 L82.0 228.0Z" fill="#1a26b0"/><path d="M85.2 227.9 L87.3 230.4 L85.2 232.9 L83.2 230.4Z" fill="#1a26b0"/><path d="M86.5 227.6 L88.5 230.1 L86.5 232.6 L84.5 230.1Z" fill="#1a26b0"/><path d="M87.8 227.4 L89.8 229.9 L87.8 232.4 L85.7 229.9Z" fill="#1a26b0"/><path d="M89.0 225.5 L91.0 227.9 L89.0 230.4 L87.0 227.9Z" fill="#1a26b0"/><path d="M90.2 227.8 L92.3 230.3 L90.2 232.7 L88.2 230.3Z" fill="#1a26b0"/><path d="M91.5 227.5 L93.5 230.0 L91.5 232.4 L89.5 230.0Z" fill="#1a26b0"/><path d="M92.8 226.7 L94.8 229.2 L92.8 231.7 L90.7 229.2Z" fill="#1a26b0"/><path d="M94.0 227.5 L96.0 230.0 L94.0 232.4 L92.0 230.0Z" fill="#1a26b0"/><path d="M95.2 226.7 L97.3 229.2 L95.2 231.6 L93.2 229.2Z" fill="#1a26b0"/><path d="M96.5 226.1 L98.5 228.5 L96.5 231.0 L94.5 228.5Z" fill="#1a26b0"/><path d="M97.8 225.7 L99.8 228.2 L97.8 230.7 L95.7 228.2Z" fill="#1a26b0"/><path d="M99.0 226.1 L101.0 228.6 L99.0 231.0 L97.0 228.6Z" fill="#1a26b0"/><path d="M100.2 225.5 L102.3 228.0 L100.2 230.5 L98.2 228.0Z" fill="#1a26b0"/><path d="M101.5 226.6 L103.5 229.0 L101.5 231.5 L99.5 229.0Z" fill="#1a26b0"/><path d="M104.0 227.2 L106.0 229.7 L104.0 232.2 L102.0 229.7Z" fill="#1a26b0"/><path d="M106.5 227.2 L108.5 229.6 L106.5 232.1 L104.5 229.6Z" fill="#1a26b0"/><path d="M109.0 227.4 L111.0 229.9 L109.0 232.3 L107.0 229.9Z" fill="#1a26b0"/><path d="M111.5 227.2 L113.5 229.6 L111.5 232.1 L109.5 229.6Z" fill="#1a26b0"/><path d="M114.0 226.5 L116.0 228.9 L114.0 231.4 L112.0 228.9Z" fill="#1a26b0"/><path d="M116.5 226.9 L118.5 229.4 L116.5 231.8 L114.5 229.4Z" fill="#1a26b0"/><path d="M119.0 226.7 L121.0 229.2 L119.0 231.7 L117.0 229.2Z" fill="#1a26b0"/><path d="M121.5 227.3 L123.5 229.8 L121.5 232.2 L119.5 229.8Z" fill="#1a26b0"/><path d="M124.0 226.9 L126.0 229.3 L124.0 231.8 L122.0 229.3Z" fill="#1a26b0"/><path d="M126.5 226.5 L128.6 228.9 L126.5 231.4 L124.5 228.9Z" fill="#1a26b0"/><path d="M129.0 227.1 L131.1 229.5 L129.0 232.0 L127.0 229.5Z" fill="#1a26b0"/><path d="M131.5 227.6 L133.6 230.0 L131.5 232.5 L129.4 230.0Z" fill="#1a26b0"/><path d="M134.0 226.4 L136.1 228.8 L134.0 231.3 L131.9 228.8Z" fill="#1a26b0"/><path d="M136.5 227.4 L138.6 229.9 L136.5 232.4 L134.4 229.9Z" fill="#1a26b0"/><path d="M139.0 226.1 L141.1 228.5 L139.0 231.0 L136.9 228.5Z" fill="#1a26b0"/><path d="M141.5 226.5 L143.6 228.9 L141.5 231.4 L139.4 228.9Z" fill="#1a26b0"/><path d="M144.0 226.4 L146.1 228.9 L144.0 231.3 L141.9 228.9Z" fill="#1a26b0"/><path d="M146.5 227.2 L148.6 229.7 L146.5 232.2 L144.4 229.7Z" fill="#1a26b0"/><path d="M149.0 227.6 L151.1 230.0 L149.0 232.5 L146.9 230.0Z" fill="#1a26b0"/><path d="M151.6 221.5 L153.7 224.0 L151.6 226.5 L149.5 224.0Z" fill="#1a26b0"/><path d="M154.1 212.7 L156.2 215.2 L154.1 217.7 L152.0 215.2Z" fill="#1a26b0"/><path d="M156.6 193.8 L158.7 196.3 L156.6 198.8 L154.5 196.3Z" fill="#1a26b0"/><path d="M158.4 185.5 L160.5 188.0 L158.4 190.5 L156.3 188.0Z" fill="#1a26b0"/><path d="M160.4 174.0 L162.5 176.5 L160.4 179.0 L158.3 176.5Z" fill="#1a26b0"/><path d="M162.4 156.5 L164.5 159.0 L162.4 161.5 L160.3 159.0Z" fill="#1a26b0"/><path d="M165.0 145.5 L167.1 148.0 L165.0 150.5 L162.9 148.0Z" fill="#1a26b0"/><path d="M167.5 139.0 L169.6 141.5 L167.5 144.0 L165.4 141.5Z" fill="#1a26b0"/><path d="M170.0 137.8 L172.1 140.3 L170.0 142.8 L167.9 140.3Z" fill="#1a26b0"/><path d="M172.5 135.3 L174.6 137.8 L172.5 140.3 L170.4 137.8Z" fill="#1a26b0"/><path d="M175.0 127.7 L177.1 130.2 L175.0 132.7 L172.9 130.2Z" fill="#1a26b0"/><path d="M178.0 124.0 L180.1 126.5 L178.0 129.0 L175.9 126.5Z" fill="#1a26b0"/><path d="M180.6 117.7 L182.7 120.2 L180.6 122.7 L178.5 120.2Z" fill="#1a26b0"/><path d="M183.1 112.1 L185.2 114.6 L183.1 117.1 L181.0 114.6Z" fill="#1a26b0"/><path d="M186.4 107.6 L188.5 110.1 L186.4 112.6 L184.3 110.1Z" fill="#1a26b0"/><path d="M188.9 107.6 L191.0 110.1 L188.9 112.6 L186.8 110.1Z" fill="#1a26b0"/><path d="M190.6 100.6 L192.7 103.1 L190.6 105.6 L188.5 103.1Z" fill="#1a26b0"/><path d="M193.1 98.1 L195.2 100.6 L193.1 103.1 L191.0 100.6Z" fill="#1a26b0"/><path d="M195.7 95.1 L197.8 97.6 L195.7 100.1 L193.6 97.6Z" fill="#1a26b0"/><path d="M198.4 98.8 L200.5 101.3 L198.4 103.8 L196.3 101.3Z" fill="#1a26b0"/><path d="M200.7 100.6 L202.8 103.1 L200.7 105.6 L198.6 103.1Z" fill="#1a26b0"/><path d="M203.2 105.6 L205.2 108.1 L203.2 110.6 L201.1 108.1Z" fill="#1a26b0"/><path d="M206.5 107.6 L208.6 110.1 L206.5 112.6 L204.4 110.1Z" fill="#1a26b0"/><path d="M209.0 108.9 L211.1 111.4 L209.0 113.9 L206.9 111.4Z" fill="#1a26b0"/><path d="M211.5 113.9 L213.6 116.4 L211.5 118.9 L209.4 116.4Z" fill="#1a26b0"/><path d="M214.0 113.9 L216.1 116.4 L214.0 118.9 L211.9 116.4Z" fill="#1a26b0"/><path d="M216.5 119.7 L218.6 122.2 L216.5 124.7 L214.4 122.2Z" fill="#1a26b0"/><path d="M219.0 121.5 L221.1 124.0 L219.0 126.5 L216.9 124.0Z" fill="#1a26b0"/><path d="M222.3 124.0 L224.4 126.5 L222.3 129.0 L220.2 126.5Z" fill="#1a26b0"/><path d="M225.3 123.5 L227.4 126.0 L225.3 128.5 L223.2 126.0Z" fill="#1a26b0"/><path d="M228.3 119.7 L230.4 122.2 L228.3 124.7 L226.2 122.2Z" fill="#1a26b0"/><path d="M230.8 122.2 L232.9 124.7 L230.8 127.2 L228.8 124.7Z" fill="#1a26b0"/><path d="M234.1 121.5 L236.2 124.0 L234.1 126.5 L232.0 124.0Z" fill="#1a26b0"/><path d="M237.4 119.7 L239.5 122.2 L237.4 124.7 L235.3 122.2Z" fill="#1a26b0"/><path d="M240.4 122.7 L242.5 125.2 L240.4 127.7 L238.3 125.2Z" fill="#1a26b0"/><path d="M243.4 124.0 L245.5 126.5 L243.4 129.0 L241.3 126.5Z" fill="#1a26b0"/><path d="M244.9 127.7 L247.0 130.2 L244.9 132.7 L242.8 130.2Z" fill="#1a26b0"/><path d="M247.4 124.0 L249.5 126.5 L247.4 129.0 L245.3 126.5Z" fill="#1a26b0"/><path d="M249.9 129.0 L252.0 131.5 L249.9 134.0 L247.8 131.5Z" fill="#1a26b0"/><path d="M252.9 127.3 L255.0 129.8 L252.9 132.3 L250.8 129.8Z" fill="#1a26b0"/><path d="M255.5 130.8 L257.6 133.3 L255.5 135.8 L253.4 133.3Z" fill="#1a26b0"/><path d="M258.5 129.0 L260.6 131.5 L258.5 134.0 L256.4 131.5Z" fill="#1a26b0"/><path d="M260.6 132.2 L262.7 134.7 L260.6 137.2 L258.6 134.7Z" fill="#1a26b0"/><path d="M263.8 131.4 L265.9 133.9 L263.8 136.4 L261.8 133.9Z" fill="#1a26b0"/><path d="M267.1 137.7 L269.2 140.2 L267.1 142.7 L265.1 140.2Z" fill="#1a26b0"/><path d="M269.6 141.5 L271.7 144.0 L269.6 146.5 L267.6 144.0Z" fill="#1a26b0"/><path d="M272.1 144.0 L274.2 146.5 L272.1 149.0 L270.1 146.5Z" fill="#1a26b0"/><path d="M274.6 150.3 L276.7 152.8 L274.6 155.3 L272.6 152.8Z" fill="#1a26b0"/><path d="M278.1 163.8 L280.2 166.3 L278.1 168.8 L276.1 166.3Z" fill="#1a26b0"/><path d="M282.1 173.9 L284.2 176.4 L282.1 178.9 L280.1 176.4Z" fill="#1a26b0"/><path d="M285.7 183.9 L287.8 186.4 L285.7 188.9 L283.6 186.4Z" fill="#1a26b0"/><path d="M288.9 187.7 L290.9 190.2 L288.9 192.7 L286.8 190.2Z" fill="#1a26b0"/><path d="M292.7 192.7 L294.8 195.2 L292.7 197.7 L290.6 195.2Z" fill="#1a26b0"/><path d="M296.5 192.2 L298.6 194.7 L296.5 197.2 L294.4 194.7Z" fill="#1a26b0"/><path d="M300.2 196.5 L302.2 199.0 L300.2 201.5 L298.1 199.0Z" fill="#1a26b0"/><path d="M304.0 199.0 L306.1 201.5 L304.0 204.0 L301.9 201.5Z" fill="#1a26b0"/><path d="M307.3 201.5 L309.4 204.0 L307.3 206.5 L305.2 204.0Z" fill="#1a26b0"/><path d="M310.3 202.3 L312.4 204.8 L310.3 207.3 L308.2 204.8Z" fill="#1a26b0"/><path d="M314.1 206.5 L316.2 209.0 L314.1 211.5 L312.1 209.0Z" fill="#1a26b0"/><path d="M317.8 210.3 L319.9 212.8 L317.8 215.3 L315.8 212.8Z" fill="#1a26b0"/><path d="M321.6 213.3 L323.7 215.8 L321.6 218.3 L319.6 215.8Z" fill="#1a26b0"/><path d="M324.0 213.9 L326.1 216.4 L324.0 218.9 L321.9 216.4Z" fill="#1a26b0"/><path d="M330.3 218.9 L332.4 221.4 L330.3 223.9 L328.2 221.4Z" fill="#1a26b0"/><path d="M337.3 217.6 L339.4 220.1 L337.3 222.6 L335.2 220.1Z" fill="#1a26b0"/><path d="M344.1 217.1 L346.2 219.6 L344.1 222.1 L342.1 219.6Z" fill="#1a26b0"/><path d="M350.4 217.6 L352.4 220.1 L350.4 222.6 L348.3 220.1Z" fill="#1a26b0"/><path d="M356.7 216.4 L358.8 218.9 L356.7 221.4 L354.6 218.9Z" fill="#1a26b0"/></g>
<path d="M100.0 228.0 L102.5 228.3 L105.0 228.3 L107.5 228.8 L110.0 229.3 L112.5 229.1 L115.0 228.6 L117.5 228.6 L120.0 228.7 L122.5 228.5 L125.0 228.4 L127.5 228.0 L130.0 228.3 L132.5 229.4 L135.0 228.1 L137.5 228.7 L140.0 228.9 L142.5 229.3 L145.0 228.2 L147.5 228.3 L150.0 228.3 L152.5 228.5 L155.0 228.6 L157.5 229.4 L160.0 229.3 L162.5 229.3 L165.0 227.9 L167.5 228.0 L170.0 229.0 L172.5 229.3 L175.0 228.7 L177.5 228.8 L180.0 227.9 L182.5 228.5 L185.0 229.4 L187.5 229.2 L190.0 229.3 L192.5 229.5 L195.0 228.3 L197.5 228.1 L200.0 228.1 L202.5 228.7 L205.0 229.0 L207.5 229.4 L210.0 229.1 L212.5 228.9 L215.0 229.1 L217.5 228.6 L220.0 228.8 L222.5 228.0 L225.0 229.2 L227.5 228.3 L230.0 229.4 L232.5 228.9 L235.0 228.4 L237.5 228.1 L240.0 228.3 L242.5 228.8 L245.0 228.8 L247.5 227.8 L250.0 227.6 L252.5 228.2 L255.0 228.2 L257.5 227.8 L260.0 227.5 L262.5 228.0 L265.0 226.9 L267.5 227.3 L270.0 227.4 L272.5 224.5 L275.0 224.0 L277.5 224.4 L280.0 223.8 L282.5 223.4 L285.0 223.4 L287.5 224.5 L290.0 224.1 L292.5 223.5 L295.0 223.0 L297.5 223.8 L300.0 224.1 L302.5 223.7 L305.0 223.4 L307.5 224.1 L310.0 224.5 L312.5 223.4 L315.0 223.1 L317.5 223.5 L320.0 223.7 L323.2 222.8 L330.0 224.6 L336.5 222.0 L343.3 226.4 L350.3 222.4 L356.6 223.4" fill="none" stroke="#2a46e0" stroke-width="0.7" stroke-linejoin="round" />
<g><path d="M100.0 226.4 L101.6 229.3 L98.4 229.3Z" fill="#2a46e0"/><path d="M102.5 226.7 L104.1 229.6 L100.9 229.6Z" fill="#2a46e0"/><path d="M105.0 226.7 L106.6 229.6 L103.4 229.6Z" fill="#2a46e0"/><path d="M107.5 227.2 L109.1 230.1 L105.9 230.1Z" fill="#2a46e0"/><path d="M110.0 227.7 L111.6 230.6 L108.4 230.6Z" fill="#2a46e0"/><path d="M112.5 227.5 L114.1 230.4 L110.9 230.4Z" fill="#2a46e0"/><path d="M115.0 227.0 L116.6 229.8 L113.4 229.8Z" fill="#2a46e0"/><path d="M117.5 227.0 L119.1 229.8 L115.9 229.8Z" fill="#2a46e0"/><path d="M120.0 227.1 L121.6 230.0 L118.4 230.0Z" fill="#2a46e0"/><path d="M122.5 226.9 L124.1 229.8 L120.9 229.8Z" fill="#2a46e0"/><path d="M125.0 226.8 L126.6 229.7 L123.4 229.7Z" fill="#2a46e0"/><path d="M127.5 226.4 L129.1 229.3 L125.9 229.3Z" fill="#2a46e0"/><path d="M130.0 226.7 L131.6 229.6 L128.4 229.6Z" fill="#2a46e0"/><path d="M132.5 227.8 L134.1 230.7 L130.9 230.7Z" fill="#2a46e0"/><path d="M135.0 226.5 L136.6 229.4 L133.4 229.4Z" fill="#2a46e0"/><path d="M137.5 227.1 L139.1 230.0 L135.9 230.0Z" fill="#2a46e0"/><path d="M140.0 227.3 L141.6 230.2 L138.4 230.2Z" fill="#2a46e0"/><path d="M142.5 227.7 L144.1 230.6 L140.9 230.6Z" fill="#2a46e0"/><path d="M145.0 226.6 L146.6 229.5 L143.4 229.5Z" fill="#2a46e0"/><path d="M147.5 226.7 L149.1 229.6 L145.9 229.6Z" fill="#2a46e0"/><path d="M150.0 226.7 L151.6 229.6 L148.4 229.6Z" fill="#2a46e0"/><path d="M152.5 226.9 L154.1 229.8 L150.9 229.8Z" fill="#2a46e0"/><path d="M155.0 227.0 L156.6 229.9 L153.4 229.9Z" fill="#2a46e0"/><path d="M157.5 227.8 L159.1 230.7 L155.9 230.7Z" fill="#2a46e0"/><path d="M160.0 227.7 L161.6 230.5 L158.4 230.5Z" fill="#2a46e0"/><path d="M162.5 227.7 L164.1 230.6 L160.9 230.6Z" fill="#2a46e0"/><path d="M165.0 226.3 L166.6 229.2 L163.4 229.2Z" fill="#2a46e0"/><path d="M167.5 226.4 L169.1 229.2 L165.9 229.2Z" fill="#2a46e0"/><path d="M170.0 227.4 L171.6 230.3 L168.4 230.3Z" fill="#2a46e0"/><path d="M172.5 227.7 L174.1 230.6 L170.9 230.6Z" fill="#2a46e0"/><path d="M175.0 227.1 L176.6 229.9 L173.4 229.9Z" fill="#2a46e0"/><path d="M177.5 227.2 L179.1 230.1 L175.9 230.1Z" fill="#2a46e0"/><path d="M180.0 226.3 L181.6 229.2 L178.4 229.2Z" fill="#2a46e0"/><path d="M182.5 226.9 L184.1 229.8 L180.9 229.8Z" fill="#2a46e0"/><path d="M185.0 227.8 L186.6 230.7 L183.4 230.7Z" fill="#2a46e0"/><path d="M187.5 227.6 L189.1 230.5 L185.9 230.5Z" fill="#2a46e0"/><path d="M190.0 227.7 L191.6 230.5 L188.4 230.5Z" fill="#2a46e0"/><path d="M192.5 227.9 L194.1 230.7 L190.9 230.7Z" fill="#2a46e0"/><path d="M195.0 226.7 L196.6 229.6 L193.4 229.6Z" fill="#2a46e0"/><path d="M197.5 226.5 L199.1 229.4 L195.9 229.4Z" fill="#2a46e0"/><path d="M200.0 226.5 L201.6 229.4 L198.4 229.4Z" fill="#2a46e0"/><path d="M202.5 227.1 L204.1 230.0 L200.9 230.0Z" fill="#2a46e0"/><path d="M205.0 227.4 L206.6 230.3 L203.4 230.3Z" fill="#2a46e0"/><path d="M207.5 227.8 L209.1 230.7 L205.9 230.7Z" fill="#2a46e0"/><path d="M210.0 227.5 L211.6 230.3 L208.4 230.3Z" fill="#2a46e0"/><path d="M212.5 227.3 L214.1 230.2 L210.9 230.2Z" fill="#2a46e0"/><path d="M215.0 227.5 L216.6 230.4 L213.4 230.4Z" fill="#2a46e0"/><path d="M217.5 227.0 L219.1 229.9 L215.9 229.9Z" fill="#2a46e0"/><path d="M220.0 227.2 L221.6 230.1 L218.4 230.1Z" fill="#2a46e0"/><path d="M222.5 226.4 L224.1 229.2 L220.9 229.2Z" fill="#2a46e0"/><path d="M225.0 227.6 L226.6 230.4 L223.4 230.4Z" fill="#2a46e0"/><path d="M227.5 226.7 L229.1 229.6 L225.9 229.6Z" fill="#2a46e0"/><path d="M230.0 227.8 L231.6 230.7 L228.4 230.7Z" fill="#2a46e0"/><path d="M232.5 227.3 L234.1 230.2 L230.9 230.2Z" fill="#2a46e0"/><path d="M235.0 226.8 L236.6 229.7 L233.4 229.7Z" fill="#2a46e0"/><path d="M237.5 226.5 L239.1 229.4 L235.9 229.4Z" fill="#2a46e0"/><path d="M240.0 226.7 L241.6 229.6 L238.4 229.6Z" fill="#2a46e0"/><path d="M242.5 227.2 L244.1 230.1 L240.9 230.1Z" fill="#2a46e0"/><path d="M245.0 227.2 L246.6 230.1 L243.4 230.1Z" fill="#2a46e0"/><path d="M247.5 226.2 L249.1 229.1 L245.9 229.1Z" fill="#2a46e0"/><path d="M250.0 226.0 L251.6 228.9 L248.4 228.9Z" fill="#2a46e0"/><path d="M252.5 226.6 L254.1 229.5 L250.9 229.5Z" fill="#2a46e0"/><path d="M255.0 226.6 L256.6 229.5 L253.4 229.5Z" fill="#2a46e0"/><path d="M257.5 226.2 L259.1 229.1 L255.9 229.1Z" fill="#2a46e0"/><path d="M260.0 225.9 L261.6 228.7 L258.4 228.7Z" fill="#2a46e0"/><path d="M262.5 226.4 L264.1 229.2 L260.9 229.2Z" fill="#2a46e0"/><path d="M265.0 225.3 L266.6 228.2 L263.4 228.2Z" fill="#2a46e0"/><path d="M267.5 225.7 L269.1 228.6 L265.9 228.6Z" fill="#2a46e0"/><path d="M270.0 225.8 L271.6 228.7 L268.4 228.7Z" fill="#2a46e0"/><path d="M272.5 222.9 L274.1 225.8 L270.9 225.8Z" fill="#2a46e0"/><path d="M275.0 222.4 L276.6 225.3 L273.4 225.3Z" fill="#2a46e0"/><path d="M277.5 222.8 L279.1 225.7 L275.9 225.7Z" fill="#2a46e0"/><path d="M280.0 222.2 L281.6 225.0 L278.4 225.0Z" fill="#2a46e0"/><path d="M282.5 221.8 L284.1 224.7 L280.9 224.7Z" fill="#2a46e0"/><path d="M285.0 221.8 L286.6 224.7 L283.4 224.7Z" fill="#2a46e0"/><path d="M287.5 222.9 L289.1 225.8 L285.9 225.8Z" fill="#2a46e0"/><path d="M290.0 222.5 L291.6 225.4 L288.4 225.4Z" fill="#2a46e0"/><path d="M292.5 221.9 L294.1 224.8 L290.9 224.8Z" fill="#2a46e0"/><path d="M295.0 221.4 L296.6 224.3 L293.4 224.3Z" fill="#2a46e0"/><path d="M297.5 222.2 L299.1 225.1 L295.9 225.1Z" fill="#2a46e0"/><path d="M300.0 222.5 L301.6 225.4 L298.4 225.4Z" fill="#2a46e0"/><path d="M302.5 222.1 L304.1 225.0 L300.9 225.0Z" fill="#2a46e0"/><path d="M305.0 221.8 L306.6 224.7 L303.4 224.7Z" fill="#2a46e0"/><path d="M307.5 222.5 L309.1 225.3 L305.9 225.3Z" fill="#2a46e0"/><path d="M310.0 222.9 L311.6 225.8 L308.4 225.8Z" fill="#2a46e0"/><path d="M312.5 221.8 L314.1 224.6 L310.9 224.6Z" fill="#2a46e0"/><path d="M315.0 221.5 L316.6 224.3 L313.4 224.3Z" fill="#2a46e0"/><path d="M317.5 221.9 L319.1 224.8 L315.9 224.8Z" fill="#2a46e0"/><path d="M320.0 222.1 L321.6 225.0 L318.4 225.0Z" fill="#2a46e0"/><path d="M323.2 221.2 L324.8 224.1 L321.6 224.1Z" fill="#2a46e0"/><path d="M330.0 223.0 L331.6 225.9 L328.4 225.9Z" fill="#2a46e0"/><path d="M336.5 220.4 L338.1 223.3 L334.9 223.3Z" fill="#2a46e0"/><path d="M343.3 224.8 L344.9 227.7 L341.7 227.7Z" fill="#2a46e0"/><path d="M350.3 220.8 L351.9 223.7 L348.7 223.7Z" fill="#2a46e0"/><path d="M356.6 221.8 L358.2 224.7 L355.0 224.7Z" fill="#2a46e0"/></g>
<path d="M150.0 227.3 L152.4 226.5 L154.8 227.4 L157.2 227.2 L159.6 226.9 L162.0 226.4 L164.4 227.5 L166.8 226.5 L169.2 227.2 L171.6 226.4 L174.0 226.3 L176.4 227.0 L178.8 226.4 L181.2 227.3 L183.6 226.6 L186.0 226.1 L188.4 226.2 L190.8 226.4 L193.2 226.7 L195.6 227.1 L198.0 225.9 L200.4 226.2 L202.8 226.0 L205.2 227.0 L207.6 225.8 L210.0 225.7 L212.4 225.6 L214.8 226.1 L217.2 226.8 L219.6 226.7 L222.0 226.5 L224.4 226.8 L226.8 226.7 L229.2 225.8 L231.6 225.6 L234.0 226.6 L236.4 226.3 L238.8 225.3 L241.2 226.1 L243.6 225.7 L246.0 225.7 L248.4 225.6 L250.8 225.2 L253.2 224.6 L255.6 224.6 L258.0 224.3 L260.4 224.7 L262.8 223.2 L265.2 224.0 L267.6 222.0 L270.0 220.9 L272.4 220.3 L274.8 219.1 L277.2 217.4 L279.6 215.9 L282.0 216.2 L284.4 215.9 L286.8 216.4 L289.2 215.2 L291.6 215.4 L294.0 216.2 L296.4 214.9 L298.8 215.5 L301.2 216.0 L303.6 215.9 L306.0 214.5 L308.4 214.2 L310.8 213.9 L313.2 214.7 L315.6 213.6 L318.0 214.9 L323.2 215.6 L330.3 217.6 L337.8 218.1 L344.1 218.9 L350.4 218.1 L356.7 217.6" fill="none" stroke="#1faa63" stroke-width="0.7" stroke-linejoin="round" />
<g><path d="M150.0 229.2 L151.9 225.7 L148.1 225.7Z" fill="#1faa63"/><path d="M152.4 228.4 L154.3 225.0 L150.5 225.0Z" fill="#1faa63"/><path d="M154.8 229.3 L156.7 225.8 L152.9 225.8Z" fill="#1faa63"/><path d="M157.2 229.1 L159.1 225.7 L155.3 225.7Z" fill="#1faa63"/><path d="M159.6 228.8 L161.5 225.4 L157.7 225.4Z" fill="#1faa63"/><path d="M162.0 228.3 L163.9 224.9 L160.1 224.9Z" fill="#1faa63"/><path d="M164.4 229.4 L166.3 226.0 L162.5 226.0Z" fill="#1faa63"/><path d="M166.8 228.4 L168.7 225.0 L164.9 225.0Z" fill="#1faa63"/><path d="M169.2 229.1 L171.1 225.7 L167.3 225.7Z" fill="#1faa63"/><path d="M171.6 228.3 L173.5 224.8 L169.7 224.8Z" fill="#1faa63"/><path d="M174.0 228.2 L175.9 224.8 L172.1 224.8Z" fill="#1faa63"/><path d="M176.4 228.9 L178.3 225.5 L174.5 225.5Z" fill="#1faa63"/><path d="M178.8 228.3 L180.7 224.8 L176.9 224.8Z" fill="#1faa63"/><path d="M181.2 229.2 L183.1 225.7 L179.3 225.7Z" fill="#1faa63"/><path d="M183.6 228.5 L185.5 225.1 L181.7 225.1Z" fill="#1faa63"/><path d="M186.0 228.0 L187.9 224.6 L184.1 224.6Z" fill="#1faa63"/><path d="M188.4 228.1 L190.3 224.6 L186.5 224.6Z" fill="#1faa63"/><path d="M190.8 228.3 L192.7 224.9 L188.9 224.9Z" fill="#1faa63"/><path d="M193.2 228.6 L195.1 225.2 L191.3 225.2Z" fill="#1faa63"/><path d="M195.6 229.0 L197.5 225.6 L193.7 225.6Z" fill="#1faa63"/><path d="M198.0 227.8 L199.9 224.4 L196.1 224.4Z" fill="#1faa63"/><path d="M200.4 228.1 L202.3 224.7 L198.5 224.7Z" fill="#1faa63"/><path d="M202.8 227.9 L204.7 224.4 L200.9 224.4Z" fill="#1faa63"/><path d="M205.2 228.9 L207.1 225.5 L203.3 225.5Z" fill="#1faa63"/><path d="M207.6 227.7 L209.5 224.3 L205.7 224.3Z" fill="#1faa63"/><path d="M210.0 227.6 L211.9 224.1 L208.1 224.1Z" fill="#1faa63"/><path d="M212.4 227.5 L214.3 224.1 L210.5 224.1Z" fill="#1faa63"/><path d="M214.8 228.0 L216.7 224.6 L212.9 224.6Z" fill="#1faa63"/><path d="M217.2 228.7 L219.1 225.2 L215.3 225.2Z" fill="#1faa63"/><path d="M219.6 228.6 L221.5 225.2 L217.7 225.2Z" fill="#1faa63"/><path d="M222.0 228.4 L223.9 224.9 L220.1 224.9Z" fill="#1faa63"/><path d="M224.4 228.7 L226.3 225.3 L222.5 225.3Z" fill="#1faa63"/><path d="M226.8 228.6 L228.7 225.2 L224.9 225.2Z" fill="#1faa63"/><path d="M229.2 227.7 L231.1 224.3 L227.3 224.3Z" fill="#1faa63"/><path d="M231.6 227.5 L233.5 224.1 L229.7 224.1Z" fill="#1faa63"/><path d="M234.0 228.5 L235.9 225.1 L232.1 225.1Z" fill="#1faa63"/><path d="M236.4 228.2 L238.3 224.8 L234.5 224.8Z" fill="#1faa63"/><path d="M238.8 227.2 L240.7 223.8 L236.9 223.8Z" fill="#1faa63"/><path d="M241.2 228.0 L243.1 224.6 L239.3 224.6Z" fill="#1faa63"/><path d="M243.6 227.6 L245.5 224.2 L241.7 224.2Z" fill="#1faa63"/><path d="M246.0 227.6 L247.9 224.2 L244.1 224.2Z" fill="#1faa63"/><path d="M248.4 227.5 L250.3 224.1 L246.5 224.1Z" fill="#1faa63"/><path d="M250.8 227.1 L252.7 223.7 L248.9 223.7Z" fill="#1faa63"/><path d="M253.2 226.5 L255.1 223.1 L251.3 223.1Z" fill="#1faa63"/><path d="M255.6 226.5 L257.5 223.1 L253.7 223.1Z" fill="#1faa63"/><path d="M258.0 226.2 L259.9 222.8 L256.1 222.8Z" fill="#1faa63"/><path d="M260.4 226.6 L262.3 223.2 L258.5 223.2Z" fill="#1faa63"/><path d="M262.8 225.1 L264.7 221.7 L260.9 221.7Z" fill="#1faa63"/><path d="M265.2 225.9 L267.1 222.5 L263.3 222.5Z" fill="#1faa63"/><path d="M267.6 223.9 L269.5 220.4 L265.7 220.4Z" fill="#1faa63"/><path d="M270.0 222.8 L271.9 219.4 L268.1 219.4Z" fill="#1faa63"/><path d="M272.4 222.2 L274.3 218.8 L270.5 218.8Z" fill="#1faa63"/><path d="M274.8 221.0 L276.7 217.6 L272.9 217.6Z" fill="#1faa63"/><path d="M277.2 219.3 L279.1 215.9 L275.3 215.9Z" fill="#1faa63"/><path d="M279.6 217.8 L281.5 214.4 L277.7 214.4Z" fill="#1faa63"/><path d="M282.0 218.1 L283.9 214.7 L280.1 214.7Z" fill="#1faa63"/><path d="M284.4 217.8 L286.3 214.3 L282.5 214.3Z" fill="#1faa63"/><path d="M286.8 218.3 L288.7 214.9 L284.9 214.9Z" fill="#1faa63"/><path d="M289.2 217.1 L291.1 213.7 L287.3 213.7Z" fill="#1faa63"/><path d="M291.6 217.3 L293.5 213.9 L289.7 213.9Z" fill="#1faa63"/><path d="M294.0 218.1 L295.9 214.6 L292.1 214.6Z" fill="#1faa63"/><path d="M296.4 216.8 L298.3 213.4 L294.5 213.4Z" fill="#1faa63"/><path d="M298.8 217.4 L300.7 214.0 L296.9 214.0Z" fill="#1faa63"/><path d="M301.2 217.9 L303.1 214.5 L299.3 214.5Z" fill="#1faa63"/><path d="M303.6 217.8 L305.5 214.3 L301.7 214.3Z" fill="#1faa63"/><path d="M306.0 216.4 L307.9 213.0 L304.1 213.0Z" fill="#1faa63"/><path d="M308.4 216.1 L310.3 212.6 L306.5 212.6Z" fill="#1faa63"/><path d="M310.8 215.8 L312.7 212.3 L308.9 212.3Z" fill="#1faa63"/><path d="M313.2 216.6 L315.1 213.2 L311.3 213.2Z" fill="#1faa63"/><path d="M315.6 215.5 L317.5 212.0 L313.7 212.0Z" fill="#1faa63"/><path d="M318.0 216.8 L319.9 213.4 L316.1 213.4Z" fill="#1faa63"/><path d="M323.2 217.5 L325.1 214.1 L321.3 214.1Z" fill="#1faa63"/><path d="M330.3 219.5 L332.2 216.1 L328.4 216.1Z" fill="#1faa63"/><path d="M337.8 220.0 L339.7 216.6 L335.9 216.6Z" fill="#1faa63"/><path d="M344.1 220.8 L346.0 217.4 L342.2 217.4Z" fill="#1faa63"/><path d="M350.4 220.0 L352.3 216.6 L348.5 216.6Z" fill="#1faa63"/><path d="M356.7 219.5 L358.6 216.1 L354.8 216.1Z" fill="#1faa63"/></g>
<path d="M115.0 226.5 L117.4 225.7 L119.8 225.6 L122.2 226.5 L124.6 226.1 L127.0 225.6 L129.4 226.2 L131.8 225.6 L134.2 225.6 L136.6 225.2 L139.0 226.3 L141.4 226.5 L143.8 226.1 L146.2 226.5 L148.6 225.2 L151.0 225.5 L153.4 225.9 L155.8 226.5 L158.2 226.5 L160.6 225.7 L163.0 225.6 L165.4 225.8 L167.8 225.9 L170.2 226.5 L172.6 225.5 L175.0 226.3 L177.4 226.2 L179.8 226.4 L182.2 226.3 L184.6 226.1 L187.0 225.7 L189.4 225.6 L191.8 225.7 L194.2 226.3 L196.6 225.3 L199.0 225.5 L201.4 226.3 L203.8 225.5 L206.2 225.3 L208.6 225.2 L211.0 226.0 L213.4 225.7 L215.8 226.6 L218.2 226.4 L220.6 226.6 L223.0 225.6 L225.4 225.3 L227.8 225.3 L230.2 225.9 L232.6 226.2 L235.0 225.8 L237.4 225.5 L239.8 225.8 L242.2 226.1 L244.6 226.1 L247.0 226.2 L249.4 226.4 L251.8 226.1 L254.2 225.4 L256.6 226.4 L259.0 225.6 L261.4 226.0 L263.8 225.7 L266.2 226.2 L268.6 225.5 L271.0 225.5 L273.4 225.5 L275.8 225.4 L278.2 226.4 L280.6 226.0 L283.0 225.7 L285.4 225.8 L287.8 226.6 L290.2 225.9 L292.6 225.5 L295.0 226.3 L297.4 226.1 L299.8 226.6 L302.2 225.3 L304.6 225.9 L307.0 226.3 L309.4 226.4 L311.8 226.5 L314.2 225.3 L316.6 225.6 L319.0 225.4 L323.2 227.5 L330.0 226.6 L336.5 228.0 L343.3 226.2 L350.3 227.6 L356.6 225.8" fill="none" stroke="#6d8f1f" stroke-width="0.7" stroke-linejoin="round" />
<g><path d="M116.7 226.5 L113.6 224.8 L113.6 228.2Z" fill="#6d8f1f"/><path d="M119.1 225.7 L116.0 224.0 L116.0 227.4Z" fill="#6d8f1f"/><path d="M121.5 225.6 L118.4 223.9 L118.4 227.3Z" fill="#6d8f1f"/><path d="M123.9 226.5 L120.8 224.8 L120.8 228.2Z" fill="#6d8f1f"/><path d="M126.3 226.1 L123.2 224.4 L123.2 227.8Z" fill="#6d8f1f"/><path d="M128.7 225.6 L125.6 223.9 L125.6 227.3Z" fill="#6d8f1f"/><path d="M131.1 226.2 L128.0 224.5 L128.0 227.9Z" fill="#6d8f1f"/><path d="M133.5 225.6 L130.4 223.9 L130.4 227.3Z" fill="#6d8f1f"/><path d="M135.9 225.6 L132.8 223.9 L132.8 227.3Z" fill="#6d8f1f"/><path d="M138.3 225.2 L135.2 223.5 L135.2 226.9Z" fill="#6d8f1f"/><path d="M140.7 226.3 L137.6 224.6 L137.6 228.0Z" fill="#6d8f1f"/><path d="M143.1 226.5 L140.0 224.8 L140.0 228.2Z" fill="#6d8f1f"/><path d="M145.5 226.1 L142.4 224.4 L142.4 227.8Z" fill="#6d8f1f"/><path d="M147.9 226.5 L144.8 224.8 L144.8 228.2Z" fill="#6d8f1f"/><path d="M150.3 225.2 L147.2 223.5 L147.2 226.9Z" fill="#6d8f1f"/><path d="M152.7 225.5 L149.6 223.8 L149.6 227.2Z" fill="#6d8f1f"/><path d="M155.1 225.9 L152.0 224.2 L152.0 227.6Z" fill="#6d8f1f"/><path d="M157.5 226.5 L154.4 224.8 L154.4 228.2Z" fill="#6d8f1f"/><path d="M159.9 226.5 L156.8 224.8 L156.8 228.2Z" fill="#6d8f1f"/><path d="M162.3 225.7 L159.2 224.0 L159.2 227.4Z" fill="#6d8f1f"/><path d="M164.7 225.6 L161.6 223.9 L161.6 227.3Z" fill="#6d8f1f"/><path d="M167.1 225.8 L164.0 224.1 L164.0 227.5Z" fill="#6d8f1f"/><path d="M169.5 225.9 L166.4 224.2 L166.4 227.6Z" fill="#6d8f1f"/><path d="M171.9 226.5 L168.8 224.8 L168.8 228.2Z" fill="#6d8f1f"/><path d="M174.3 225.5 L171.2 223.8 L171.2 227.2Z" fill="#6d8f1f"/><path d="M176.7 226.3 L173.6 224.6 L173.6 228.0Z" fill="#6d8f1f"/><path d="M179.1 226.2 L176.0 224.5 L176.0 227.9Z" fill="#6d8f1f"/><path d="M181.5 226.4 L178.4 224.7 L178.4 228.1Z" fill="#6d8f1f"/><path d="M183.9 226.3 L180.8 224.6 L180.8 228.0Z" fill="#6d8f1f"/><path d="M186.3 226.1 L183.2 224.4 L183.2 227.8Z" fill="#6d8f1f"/><path d="M188.7 225.7 L185.6 224.0 L185.6 227.4Z" fill="#6d8f1f"/><path d="M191.1 225.6 L188.0 223.9 L188.0 227.3Z" fill="#6d8f1f"/><path d="M193.5 225.7 L190.4 224.0 L190.4 227.4Z" fill="#6d8f1f"/><path d="M195.9 226.3 L192.8 224.6 L192.8 228.0Z" fill="#6d8f1f"/><path d="M198.3 225.3 L195.2 223.6 L195.2 227.0Z" fill="#6d8f1f"/><path d="M200.7 225.5 L197.6 223.8 L197.6 227.2Z" fill="#6d8f1f"/><path d="M203.1 226.3 L200.0 224.6 L200.0 228.0Z" fill="#6d8f1f"/><path d="M205.5 225.5 L202.4 223.8 L202.4 227.2Z" fill="#6d8f1f"/><path d="M207.9 225.3 L204.8 223.6 L204.8 227.0Z" fill="#6d8f1f"/><path d="M210.3 225.2 L207.2 223.5 L207.2 226.9Z" fill="#6d8f1f"/><path d="M212.7 226.0 L209.6 224.3 L209.6 227.7Z" fill="#6d8f1f"/><path d="M215.1 225.7 L212.0 224.0 L212.0 227.4Z" fill="#6d8f1f"/><path d="M217.5 226.6 L214.4 224.9 L214.4 228.3Z" fill="#6d8f1f"/><path d="M219.9 226.4 L216.8 224.7 L216.8 228.1Z" fill="#6d8f1f"/><path d="M222.3 226.6 L219.2 224.9 L219.2 228.3Z" fill="#6d8f1f"/><path d="M224.7 225.6 L221.6 223.9 L221.6 227.3Z" fill="#6d8f1f"/><path d="M227.1 225.3 L224.0 223.6 L224.0 227.0Z" fill="#6d8f1f"/><path d="M229.5 225.3 L226.4 223.6 L226.4 227.0Z" fill="#6d8f1f"/><path d="M231.9 225.9 L228.8 224.2 L228.8 227.6Z" fill="#6d8f1f"/><path d="M234.3 226.2 L231.2 224.5 L231.2 227.9Z" fill="#6d8f1f"/><path d="M236.7 225.8 L233.6 224.1 L233.6 227.5Z" fill="#6d8f1f"/><path d="M239.1 225.5 L236.0 223.8 L236.0 227.2Z" fill="#6d8f1f"/><path d="M241.5 225.8 L238.4 224.1 L238.4 227.5Z" fill="#6d8f1f"/><path d="M243.9 226.1 L240.8 224.4 L240.8 227.8Z" fill="#6d8f1f"/><path d="M246.3 226.1 L243.2 224.4 L243.2 227.8Z" fill="#6d8f1f"/><path d="M248.7 226.2 L245.6 224.5 L245.6 227.9Z" fill="#6d8f1f"/><path d="M251.1 226.4 L248.0 224.7 L248.0 228.1Z" fill="#6d8f1f"/><path d="M253.5 226.1 L250.4 224.4 L250.4 227.8Z" fill="#6d8f1f"/><path d="M255.9 225.4 L252.8 223.7 L252.8 227.1Z" fill="#6d8f1f"/><path d="M258.3 226.4 L255.2 224.7 L255.2 228.1Z" fill="#6d8f1f"/><path d="M260.7 225.6 L257.6 223.9 L257.6 227.3Z" fill="#6d8f1f"/><path d="M263.1 226.0 L260.0 224.3 L260.0 227.7Z" fill="#6d8f1f"/><path d="M265.5 225.7 L262.4 224.0 L262.4 227.4Z" fill="#6d8f1f"/><path d="M267.9 226.2 L264.8 224.5 L264.8 227.9Z" fill="#6d8f1f"/><path d="M270.3 225.5 L267.2 223.8 L267.2 227.2Z" fill="#6d8f1f"/><path d="M272.7 225.5 L269.6 223.8 L269.6 227.2Z" fill="#6d8f1f"/><path d="M275.1 225.5 L272.0 223.8 L272.0 227.2Z" fill="#6d8f1f"/><path d="M277.5 225.4 L274.4 223.7 L274.4 227.1Z" fill="#6d8f1f"/><path d="M279.9 226.4 L276.8 224.7 L276.8 228.1Z" fill="#6d8f1f"/><path d="M282.3 226.0 L279.2 224.3 L279.2 227.7Z" fill="#6d8f1f"/><path d="M284.7 225.7 L281.6 224.0 L281.6 227.4Z" fill="#6d8f1f"/><path d="M287.1 225.8 L284.0 224.1 L284.0 227.5Z" fill="#6d8f1f"/><path d="M289.5 226.6 L286.4 224.9 L286.4 228.3Z" fill="#6d8f1f"/><path d="M291.9 225.9 L288.8 224.2 L288.8 227.6Z" fill="#6d8f1f"/><path d="M294.3 225.5 L291.2 223.8 L291.2 227.2Z" fill="#6d8f1f"/><path d="M296.7 226.3 L293.6 224.6 L293.6 228.0Z" fill="#6d8f1f"/><path d="M299.1 226.1 L296.0 224.4 L296.0 227.8Z" fill="#6d8f1f"/><path d="M301.5 226.6 L298.4 224.9 L298.4 228.3Z" fill="#6d8f1f"/><path d="M303.9 225.3 L300.8 223.6 L300.8 227.0Z" fill="#6d8f1f"/><path d="M306.3 225.9 L303.2 224.2 L303.2 227.6Z" fill="#6d8f1f"/><path d="M308.7 226.3 L305.6 224.6 L305.6 228.0Z" fill="#6d8f1f"/><path d="M311.1 226.4 L308.0 224.7 L308.0 228.1Z" fill="#6d8f1f"/><path d="M313.5 226.5 L310.4 224.8 L310.4 228.2Z" fill="#6d8f1f"/><path d="M315.9 225.3 L312.8 223.6 L312.8 227.0Z" fill="#6d8f1f"/><path d="M318.3 225.6 L315.2 223.9 L315.2 227.3Z" fill="#6d8f1f"/><path d="M320.7 225.4 L317.6 223.7 L317.6 227.1Z" fill="#6d8f1f"/><path d="M324.9 227.5 L321.8 225.8 L321.8 229.2Z" fill="#6d8f1f"/><path d="M331.7 226.6 L328.6 224.9 L328.6 228.3Z" fill="#6d8f1f"/><path d="M338.2 228.0 L335.1 226.3 L335.1 229.7Z" fill="#6d8f1f"/><path d="M345.0 226.2 L341.9 224.5 L341.9 227.9Z" fill="#6d8f1f"/><path d="M352.0 227.6 L348.9 225.9 L348.9 229.3Z" fill="#6d8f1f"/><path d="M358.3 225.8 L355.2 224.1 L355.2 227.5Z" fill="#6d8f1f"/></g>
<path d="M84.7 30.6 L85.8 32.6 L86.6 31.2 L87.6 34.0 L88.6 33.0 L89.6 36.0 L90.6 35.0 L91.5 37.6 L92.0 46.4 L92.3 57.7 L93.3 79.0 L94.3 96.4 L95.1 134.0 L95.8 159.7 L97.1 203.8 L98.8 227.7 L99.5 230.0 L100.8 228.1 L102.2 230.6 L103.5 228.1 L104.9 227.7 L106.2 230.8 L107.6 229.5 L109.0 229.8 L110.3 229.7 L111.7 231.1 L113.0 228.8 L114.3 230.5 L116.0 230.2 L118.5 230.4 L120.9 229.9 L123.3 230.3 L125.8 230.1 L128.2 229.8 L130.7 229.7 L133.2 230.1 L135.6 229.5 L138.1 230.5 L140.5 229.6 L142.9 229.4 L145.4 229.5 L147.8 230.5 L150.3 229.8 L152.8 229.6 L155.2 229.4 L157.7 229.4 L160.1 230.2 L162.6 230.2 L165.0 230.2 L167.4 230.3 L169.9 229.5 L172.3 230.1 L174.8 229.8 L177.2 230.4 L179.7 230.4 L182.2 230.5 L184.6 229.5 L187.1 230.4 L189.5 230.5 L191.9 230.5 L194.4 229.5 L196.9 229.6 L199.3 229.5 L201.8 229.4 L204.2 230.4 L206.7 230.4 L209.1 230.2 L211.6 230.4 L214.0 230.2 L216.4 229.7 L218.9 229.1 L221.4 229.1 L223.8 230.6 L226.2 229.4 L228.7 229.6 L231.2 229.8 L233.6 229.0 L236.1 229.5 L238.5 229.5 L240.9 230.5 L243.4 229.7 L245.9 229.6 L248.3 231.0 L250.8 230.0 L253.2 230.8 L255.7 230.3 L258.1 229.0 L260.6 229.8 L263.0 229.9 L265.5 230.6 L267.9 229.7 L270.4 230.4 L272.8 230.1 L275.2 229.4 L277.7 230.8 L280.1 229.1 L282.6 230.7 L285.1 229.3 L287.5 228.9 L290.0 229.4 L292.4 230.6 L294.9 231.0 L297.3 228.9 L299.8 230.0 L302.2 230.0 L304.6 230.6 L307.1 229.3 L309.6 230.0 L312.0 229.7 L314.5 230.7 L316.9 229.5 L319.4 231.0 L323.2 230.4 L330.0 230.2 L336.5 231.0 L343.3 229.8 L350.3 230.6 L356.6 230.2" fill="none" stroke="#dd2b52" stroke-width="0.9" stroke-linejoin="round" />
<g><circle cx="84.7" cy="30.6" r="1.70" fill="#8e1820"/><circle cx="85.8" cy="32.6" r="1.70" fill="#8e1820"/><circle cx="86.6" cy="31.2" r="1.70" fill="#8e1820"/><circle cx="87.6" cy="34.0" r="1.70" fill="#8e1820"/><circle cx="88.6" cy="33.0" r="1.70" fill="#8e1820"/><circle cx="89.6" cy="36.0" r="1.70" fill="#8e1820"/><circle cx="90.6" cy="35.0" r="1.70" fill="#8e1820"/><circle cx="91.5" cy="37.6" r="1.70" fill="#8e1820"/><circle cx="92.0" cy="46.4" r="1.70" fill="#8e1820"/><circle cx="92.3" cy="57.7" r="1.70" fill="#8e1820"/><circle cx="93.3" cy="79.0" r="1.70" fill="#8e1820"/><circle cx="94.3" cy="96.4" r="1.70" fill="#8e1820"/><circle cx="95.1" cy="134.0" r="1.70" fill="#8e1820"/><circle cx="95.8" cy="159.7" r="1.70" fill="#8e1820"/><circle cx="97.1" cy="203.8" r="1.70" fill="#8e1820"/><circle cx="98.8" cy="227.7" r="1.70" fill="#8e1820"/></g>
<g><circle cx="99.5" cy="230.0" r="1.95" fill="#8e1820"/><circle cx="100.8" cy="228.1" r="1.95" fill="#8e1820"/><circle cx="102.2" cy="230.6" r="1.95" fill="#8e1820"/><circle cx="103.5" cy="228.1" r="1.95" fill="#8e1820"/><circle cx="104.9" cy="227.7" r="1.95" fill="#8e1820"/><circle cx="106.2" cy="230.8" r="1.95" fill="#8e1820"/><circle cx="107.6" cy="229.5" r="1.95" fill="#8e1820"/><circle cx="109.0" cy="229.8" r="1.95" fill="#8e1820"/><circle cx="110.3" cy="229.7" r="1.95" fill="#8e1820"/><circle cx="111.7" cy="231.1" r="1.95" fill="#8e1820"/><circle cx="113.0" cy="228.8" r="1.95" fill="#8e1820"/><circle cx="114.3" cy="230.5" r="1.95" fill="#8e1820"/></g>
<g><circle cx="116.0" cy="230.2" r="1.50" fill="#8e1820"/><circle cx="118.5" cy="230.4" r="1.50" fill="#8e1820"/><circle cx="120.9" cy="229.9" r="1.50" fill="#8e1820"/><circle cx="123.3" cy="230.3" r="1.50" fill="#8e1820"/><circle cx="125.8" cy="230.1" r="1.50" fill="#8e1820"/><circle cx="128.2" cy="229.8" r="1.50" fill="#8e1820"/><circle cx="130.7" cy="229.7" r="1.50" fill="#8e1820"/><circle cx="133.2" cy="230.1" r="1.50" fill="#8e1820"/><circle cx="135.6" cy="229.5" r="1.50" fill="#8e1820"/><circle cx="138.1" cy="230.5" r="1.50" fill="#8e1820"/><circle cx="140.5" cy="229.6" r="1.50" fill="#8e1820"/><circle cx="142.9" cy="229.4" r="1.50" fill="#8e1820"/><circle cx="145.4" cy="229.5" r="1.50" fill="#8e1820"/><circle cx="147.8" cy="230.5" r="1.50" fill="#8e1820"/><circle cx="150.3" cy="229.8" r="1.50" fill="#8e1820"/><circle cx="152.8" cy="229.6" r="1.50" fill="#8e1820"/><circle cx="155.2" cy="229.4" r="1.50" fill="#8e1820"/><circle cx="157.7" cy="229.4" r="1.50" fill="#8e1820"/><circle cx="160.1" cy="230.2" r="1.50" fill="#8e1820"/><circle cx="162.6" cy="230.2" r="1.50" fill="#8e1820"/><circle cx="165.0" cy="230.2" r="1.50" fill="#8e1820"/><circle cx="167.4" cy="230.3" r="1.50" fill="#8e1820"/><circle cx="169.9" cy="229.5" r="1.50" fill="#8e1820"/><circle cx="172.3" cy="230.1" r="1.50" fill="#8e1820"/><circle cx="174.8" cy="229.8" r="1.50" fill="#8e1820"/><circle cx="177.2" cy="230.4" r="1.50" fill="#8e1820"/><circle cx="179.7" cy="230.4" r="1.50" fill="#8e1820"/><circle cx="182.2" cy="230.5" r="1.50" fill="#8e1820"/><circle cx="184.6" cy="229.5" r="1.50" fill="#8e1820"/><circle cx="187.1" cy="230.4" r="1.50" fill="#8e1820"/><circle cx="189.5" cy="230.5" r="1.50" fill="#8e1820"/><circle cx="191.9" cy="230.5" r="1.50" fill="#8e1820"/><circle cx="194.4" cy="229.5" r="1.50" fill="#8e1820"/><circle cx="196.9" cy="229.6" r="1.50" fill="#8e1820"/><circle cx="199.3" cy="229.5" r="1.50" fill="#8e1820"/><circle cx="201.8" cy="229.4" r="1.50" fill="#8e1820"/><circle cx="204.2" cy="230.4" r="1.50" fill="#8e1820"/><circle cx="206.7" cy="230.4" r="1.50" fill="#8e1820"/><circle cx="209.1" cy="230.2" r="1.50" fill="#8e1820"/><circle cx="211.6" cy="230.4" r="1.50" fill="#8e1820"/><circle cx="214.0" cy="230.2" r="1.50" fill="#8e1820"/><circle cx="216.4" cy="229.7" r="1.50" fill="#8e1820"/></g>
<g><circle cx="218.9" cy="229.1" r="1.90" fill="#8e1820"/><circle cx="221.4" cy="229.1" r="1.90" fill="#8e1820"/><circle cx="223.8" cy="230.6" r="1.90" fill="#8e1820"/><circle cx="226.2" cy="229.4" r="1.90" fill="#8e1820"/><circle cx="228.7" cy="229.6" r="1.90" fill="#8e1820"/><circle cx="231.2" cy="229.8" r="1.90" fill="#8e1820"/><circle cx="233.6" cy="229.0" r="1.90" fill="#8e1820"/><circle cx="236.1" cy="229.5" r="1.90" fill="#8e1820"/><circle cx="238.5" cy="229.5" r="1.90" fill="#8e1820"/><circle cx="240.9" cy="230.5" r="1.90" fill="#8e1820"/><circle cx="243.4" cy="229.7" r="1.90" fill="#8e1820"/><circle cx="245.9" cy="229.6" r="1.90" fill="#8e1820"/><circle cx="248.3" cy="231.0" r="1.90" fill="#8e1820"/><circle cx="250.8" cy="230.0" r="1.90" fill="#8e1820"/><circle cx="253.2" cy="230.8" r="1.90" fill="#8e1820"/><circle cx="255.7" cy="230.3" r="1.90" fill="#8e1820"/><circle cx="258.1" cy="229.0" r="1.90" fill="#8e1820"/><circle cx="260.6" cy="229.8" r="1.90" fill="#8e1820"/><circle cx="263.0" cy="229.9" r="1.90" fill="#8e1820"/><circle cx="265.5" cy="230.6" r="1.90" fill="#8e1820"/><circle cx="267.9" cy="229.7" r="1.90" fill="#8e1820"/><circle cx="270.4" cy="230.4" r="1.90" fill="#8e1820"/><circle cx="272.8" cy="230.1" r="1.90" fill="#8e1820"/><circle cx="275.2" cy="229.4" r="1.90" fill="#8e1820"/><circle cx="277.7" cy="230.8" r="1.90" fill="#8e1820"/><circle cx="280.1" cy="229.1" r="1.90" fill="#8e1820"/><circle cx="282.6" cy="230.7" r="1.90" fill="#8e1820"/><circle cx="285.1" cy="229.3" r="1.90" fill="#8e1820"/><circle cx="287.5" cy="228.9" r="1.90" fill="#8e1820"/><circle cx="290.0" cy="229.4" r="1.90" fill="#8e1820"/><circle cx="292.4" cy="230.6" r="1.90" fill="#8e1820"/><circle cx="294.9" cy="231.0" r="1.90" fill="#8e1820"/><circle cx="297.3" cy="228.9" r="1.90" fill="#8e1820"/><circle cx="299.8" cy="230.0" r="1.90" fill="#8e1820"/><circle cx="302.2" cy="230.0" r="1.90" fill="#8e1820"/><circle cx="304.6" cy="230.6" r="1.90" fill="#8e1820"/><circle cx="307.1" cy="229.3" r="1.90" fill="#8e1820"/><circle cx="309.6" cy="230.0" r="1.90" fill="#8e1820"/><circle cx="312.0" cy="229.7" r="1.90" fill="#8e1820"/><circle cx="314.5" cy="230.7" r="1.90" fill="#8e1820"/><circle cx="316.9" cy="229.5" r="1.90" fill="#8e1820"/><circle cx="319.4" cy="231.0" r="1.90" fill="#8e1820"/><circle cx="323.2" cy="230.4" r="1.90" fill="#8e1820"/><circle cx="330.0" cy="230.2" r="1.90" fill="#8e1820"/><circle cx="336.5" cy="231.0" r="1.90" fill="#8e1820"/><circle cx="343.3" cy="229.8" r="1.90" fill="#8e1820"/><circle cx="350.3" cy="230.6" r="1.90" fill="#8e1820"/><circle cx="356.6" cy="230.2" r="1.90" fill="#8e1820"/></g>
<g stroke="#0c0c0c" stroke-width="1.15" fill="none">
<path d="M51 22V249.5"/><path d="M50.4 249H358.5"/>
<path d="M46.0 32.1H51"/>
<path d="M48.4 81.4H51"/>
<path d="M46.0 130.7H51"/>
<path d="M48.4 180.0H51"/>
<path d="M46.0 229.3H51"/>
<path d="M102.5 249V253.3"/>
<path d="M170.6 249V253.3"/>
<path d="M238.7 249V253.3"/>
<path d="M306.8 249V253.3"/>
<path d="M68.5 249V251.6"/>
<path d="M136.6 249V251.6"/>
<path d="M204.6 249V251.6"/>
<path d="M272.8 249V251.6"/>
<path d="M340.8 249V251.6"/>
</g>
<g font-size="8.4px" fill="#000" stroke="#000" stroke-width="0.15" text-anchor="end">
<text x="42.6" y="35.0">100</text>
<text x="42.6" y="133.6">50</text>
<text x="42.6" y="232.2">0</text>
</g>
<g font-size="7.9px" fill="#000" stroke="#000" stroke-width="0.2" text-anchor="middle">
<text x="102.2" y="262.2">14</text>
<text x="170.3" y="262.2">16</text>
<text x="238.4" y="262.2">18</text>
<text x="306.5" y="262.2">20</text>
</g>
<g transform="translate(19.60,147.20) rotate(-90) translate(-54.30,0) scale(1.0028,1)"><text id="t1" font-size="9.2px" fill="#111" stroke="#111" stroke-width="0.28" font-weight="normal" xml:space="preserve">Fractional Abundance  (%)</text></g>
<text x="14.3" y="21" font-size="13.2px" fill="#111" style="font-family:'Liberation Serif', 'Times New Roman', serif">a)</text>
<g transform="translate(190.00,265.00) scale(0.9441,1)"><text id="t2" font-size="9.6px" fill="#111" stroke="#111" stroke-width="0.28" font-weight="normal" xml:space="preserve"><tspan font-style="italic">hν</tspan> / eV</text></g>
<g transform="translate(58.90,51.90) scale(0.9113,1)"><text id="t3" font-size="10.5px" fill="#111" stroke="#111" stroke-width="0.28" font-weight="normal" xml:space="preserve"><tspan font-size="10.5px" dy="0.00">C</tspan><tspan font-size="7.1px" dy="2.10">2</tspan><tspan font-size="10.5px" dy="-2.10">HF</tspan><tspan font-size="7.1px" dy="2.10">3</tspan><tspan font-size="7.1px" dy="-5.57">+</tspan></text></g>
<g transform="translate(324.50,54.80) scale(0.7854,1)"><text id="t4" font-size="10.4px" fill="#111" stroke="#111" stroke-width="0.28" font-weight="normal" xml:space="preserve">TPES</text></g>
<path d="M65.3 249V367" stroke="#111" stroke-width="1.6" stroke-dasharray="2.2 1.9" fill="none"/>
<path d="M204.6 245V254.7M204.6 257.3V265.9M204.6 267.8V275M204.6 293.8V320.1M204.6 341.6V367.2" stroke="#111" stroke-width="1.5" fill="none"/>
<path d="M273.1 245V338.4" stroke="#2a46e0" stroke-width="1.35" fill="none"/>
<path d="M90.4 245V254L2.6 268" stroke="#e23fdc" stroke-width="1.5" fill="none"/>
<path d="M2.6 267.8H93.6V282.4H2.6Z" fill="#fff" stroke="#e23fdc" stroke-width="1.5"/>
<path d="M87.8 275.2 L95.0 271.2 L95.0 279.2Z" fill="#e23fdc"/>
<g transform="translate(5.50,278.90) scale(0.9472,1)"><text id="t5" font-size="10.1px" fill="#111" stroke="#111" stroke-width="0.28" font-weight="normal" xml:space="preserve"><tspan font-size="10.1px" dy="0.00">CHF</tspan><tspan font-size="6.9px" dy="2.02">2</tspan><tspan font-size="6.9px" dy="-5.35">+</tspan><tspan font-size="10.1px" dy="3.33"> + CF  13.86</tspan></text></g>
<path d="M110.3 245V255L92.2 292.7V298" stroke="#111" stroke-width="1.5" fill="none"/>
<path d="M2.6 294.0H92.2V307.8H2.6Z" fill="#fff" stroke="#111" stroke-width="1.5"/>
<rect x="89.5" y="297.9" width="5.60" height="5.60" fill="#111"/>
<g transform="translate(5.50,304.00) scale(0.9482,1)"><text id="t6" font-size="10.1px" fill="#111" stroke="#111" stroke-width="0.28" font-weight="normal" xml:space="preserve"><tspan font-size="10.1px" dy="0.00">CF</tspan><tspan font-size="6.9px" dy="-3.33">+</tspan><tspan font-size="10.1px" dy="3.33"> + CHF</tspan><tspan font-size="6.9px" dy="2.02">2</tspan><tspan font-size="10.1px" dy="-2.02">  14.33</tspan></text></g>
<path d="M119.6 245V255L92.2 316.4V322" stroke="#6d8f1f" stroke-width="1.5" fill="none"/>
<path d="M2.6 317.4H91.0V332.4H2.6Z" fill="#fff" stroke="#6d8f1f" stroke-width="1.5"/>
<path d="M97.8 325.0 L89.9 320.6 L89.9 329.4Z" fill="#6d8f1f"/>
<g transform="translate(5.20,327.80) scale(0.9143,1)"><text id="t7" font-size="10.1px" fill="#111" stroke="#111" stroke-width="0.28" font-weight="normal" xml:space="preserve"><tspan font-size="10.1px" dy="0.00">F</tspan><tspan font-size="6.9px" dy="2.02">2</tspan><tspan font-size="10.1px" dy="-2.02">C=C</tspan><tspan font-size="6.9px" dy="-3.33">+</tspan><tspan font-size="10.1px" dy="3.33"> +HF  14.53</tspan></text></g>
<path d="M133.2 245V255L115.2 297.6V351" stroke="#e81438" stroke-width="1.5" fill="none"/>
<path d="M25.2 344.2H115.2V358.2H25.2Z" fill="#fff" stroke="#e81438" stroke-width="1.5"/>
<circle cx="115.3" cy="351.3" r="3.20" fill="#e81438"/>
<g transform="translate(27.50,355.30) scale(0.9364,1)"><text id="t8" font-size="10.1px" fill="#111" stroke="#111" stroke-width="0.28" font-weight="normal" xml:space="preserve"><tspan font-size="10.1px" dy="0.00">CHF</tspan><tspan font-size="6.9px" dy="-3.33">+</tspan><tspan font-size="10.1px" dy="3.33"> + CF</tspan><tspan font-size="6.9px" dy="2.02">2</tspan><tspan font-size="10.1px" dy="-2.02">  14.94</tspan></text></g>
<path d="M15.6 367.0H107.2V382.6H15.6Z" fill="#fff" stroke="#111" stroke-width="1.7" stroke-dasharray="3 2"/>
<g transform="translate(18.00,377.40) scale(0.9385,1)"><text id="t9" font-size="10.1px" fill="#2a46e0" stroke="#2a46e0" stroke-width="0.28" font-weight="normal" xml:space="preserve"><tspan font-size="10.1px" dy="0.00">FC=CF</tspan><tspan font-size="6.9px" dy="-3.33">+</tspan><tspan font-size="10.1px" dy="3.33"> + HF  13.47</tspan></text></g>
<path d="M147.8 245V255L119.2 322.7" stroke="#1a26b0" stroke-width="1.5" fill="none"/>
<path d="M119.2 323.0H215.0V339.0H119.2Z" fill="#fff" stroke="#1a26b0" stroke-width="1.5"/>
<path d="M214.7 325.9 L218.6 331.3 L214.7 336.7 L210.8 331.3Z" fill="#1a26b0"/>
<g transform="translate(121.20,334.80) scale(0.9341,1)"><text id="t10" font-size="10.1px" fill="#111" stroke="#111" stroke-width="0.28" font-weight="normal" xml:space="preserve"><tspan font-size="10.1px" dy="0.00">FC=CHF</tspan><tspan font-size="6.9px" dy="-3.33">+</tspan><tspan font-size="10.1px" dy="3.33"> + F  15.36</tspan></text></g>
<path d="M172.9 245V253.6M172.9 262.4V263L146.8 275.6" stroke="#14b35a" stroke-width="1.5" fill="none"/>
<path d="M146.8 275.5H239.0V290.8H146.8Z" fill="#fff" stroke="#14b35a" stroke-width="1.5"/>
<path d="M238.0 287.2 L242.6 278.9 L233.4 278.9Z" fill="#14b35a"/>
<g transform="translate(151.60,285.80) scale(0.9376,1)"><text id="t11" font-size="10.1px" fill="#111" stroke="#111" stroke-width="0.28" font-weight="normal" xml:space="preserve"><tspan font-size="10.1px" dy="0.00">CF</tspan><tspan font-size="6.9px" dy="2.02">2</tspan><tspan font-size="6.9px" dy="-5.35">+</tspan><tspan font-size="10.1px" dy="3.33"> + CHF  16.09</tspan></text></g>
<path d="M204.6 351.6H303.5V367.2H204.6Z" fill="#fff" stroke="#111" stroke-width="1.5"/>
<rect x="300.6" y="357.0" width="5.60" height="5.60" fill="#111"/>
<g transform="translate(206.60,363.20) scale(0.9532,1)"><text id="t12" font-size="10.1px" fill="#111" stroke="#111" stroke-width="0.28" font-weight="normal" xml:space="preserve"><tspan font-size="10.1px" dy="0.00">CF</tspan><tspan font-size="6.9px" dy="-3.33">+</tspan><tspan font-size="10.1px" dy="3.33"> + CF</tspan><tspan font-size="6.9px" dy="2.02">2</tspan><tspan font-size="10.1px" dy="-2.02"> + H  17.00</tspan></text></g>
<path d="M274.4 245V250.5L277 268.6" stroke="#111" stroke-width="1.4" fill="none"/>
<path d="M277.0 268.8H373.2V283.9H277.0Z" fill="#fff" stroke="#111" stroke-width="1.5"/>
<rect x="371.0" y="272.9" width="5.40" height="5.40" fill="#111"/>
<g transform="translate(277.90,279.40) scale(0.9360,1)"><text id="t13" font-size="10.1px" fill="#111" stroke="#111" stroke-width="0.28" font-weight="normal" xml:space="preserve"><tspan font-size="10.1px" dy="0.00">CF</tspan><tspan font-size="6.9px" dy="-3.33">+</tspan><tspan font-size="10.1px" dy="3.33"> + CHF + F  19.10</tspan></text></g>
<path d="M273.1 322.9H362.4V338.4H273.1Z" fill="#fff" stroke="#2a46e0" stroke-width="1.35"/>
<path d="M362.5 326.4 L367.3 335.0 L357.7 335.0Z" fill="#2a46e0"/>
<g transform="translate(275.50,334.80) scale(0.9574,1)"><text id="t14" font-size="10.1px" fill="#111" stroke="#111" stroke-width="0.28" font-weight="normal" xml:space="preserve"><tspan font-size="10.1px" dy="0.00">C</tspan><tspan font-size="6.9px" dy="2.02">2</tspan><tspan font-size="10.1px" dy="-2.02">HF</tspan><tspan font-size="6.9px" dy="-3.33">+</tspan><tspan font-size="10.1px" dy="3.33"> + 2F  19.00</tspan></text></g>
<path d="M65.1 619.0 L75.0 618.4 L82.0 617.6 L86.0 616.8 L90.3 615.2 L94.0 612.0 L97.8 607.7 L100.3 604.2 L102.8 600.1 L104.8 595.4 L106.6 590.1 L108.6 584.0 L110.4 577.5 L112.3 570.3 L113.8 562.0 L115.3 552.7 L116.6 541.0 L117.8 530.0 L120.3 515.0 L122.8 495.2 L125.4 475.0 L127.0 458.0 L129.0 435.0 L130.4 418.0 L131.4 413.2 L132.6 411.3 L134.5 410.6 L150.0 410.5 L165.0 410.6 L175.0 410.8 L180.0 410.7 L185.0 411.0 L190.0 411.4 L195.0 411.9 L200.0 412.6 L205.0 413.3 L210.0 414.1 L215.0 415.0 L220.0 416.0 L225.0 417.1 L230.0 418.3 L235.0 419.6 L240.0 421.0 L245.0 422.4 L250.0 423.9 L255.0 425.5 L260.0 427.2 L265.0 428.9 L270.0 430.7 L275.0 432.6 L280.0 434.5 L285.0 436.6 L290.0 438.7 L295.0 440.8 L300.0 443.1 L305.0 445.4 L310.0 447.7 L315.0 450.2 L320.0 452.7 L325.0 455.2 L330.0 457.9 L335.0 460.6 L340.0 463.3 L345.0 466.2 L350.0 469.0 L355.0 472.0 L360.0 475.0 L360.6 475.4" fill="none" stroke="#e33cf0" stroke-width="1.7" stroke-linejoin="round" />
<path d="M66.3 410.1 L74.0 410.2 L80.1 410.7 L84.0 411.2 L87.7 412.2 L91.0 413.4 L94.0 415.1 L96.6 417.3 L99.0 420.1 L101.0 423.0 L102.7 426.4 L104.7 430.5 L106.5 435.2 L107.8 440.0 L109.0 445.3 L110.3 450.0 L111.5 454.8 L113.2 461.0 L114.8 467.6 L116.1 476.0 L117.3 485.2 L118.2 494.0 L119.1 502.7 L120.8 518.0 L122.8 536.0 L125.3 560.0 L127.5 580.8 L129.3 597.6 L131.0 612.7 L131.6 618.6" fill="none" stroke="#8e1820" stroke-width="1.9" stroke-linejoin="round" />
<path d="M131.6 618.6 L360.9 618.6" fill="none" stroke="#8e1820" stroke-width="1.4" stroke-linejoin="round" />
<path d="M140.0 618.0 L188.0 618.0 L200.0 617.3 L206.0 616.5 L212.6 615.3 L219.0 613.9 L225.1 612.2 L231.0 610.3 L237.7 608.2 L244.0 606.0 L250.3 603.9 L256.5 601.7 L262.8 599.7 L269.0 598.0 L275.4 596.4 L283.0 594.4 L289.0 592.5 L295.6 590.4 L302.0 588.3 L308.1 586.4 L314.5 584.7 L320.7 583.1 L327.0 581.8 L333.3 580.6 L339.5 579.3 L345.8 578.1 L353.0 577.0 L360.9 576.3" fill="none" stroke="#141414" stroke-width="1.8" stroke-linejoin="round" />
<path d="M215.0 618.2 L275.0 618.2 L283.0 617.8 L295.6 616.5 L302.0 615.4 L308.1 614.0 L314.5 612.4 L320.7 610.7 L327.0 608.7 L333.3 606.5 L339.5 604.0 L345.8 601.4 L353.0 598.4 L360.9 595.2" fill="none" stroke="#e81438" stroke-width="1.8" stroke-linejoin="round" />
<g><rect x="65.2" y="408.7" width="2.80" height="2.80" fill="none" stroke="#8e1820" stroke-width="1.0"/><rect x="68.6" y="409.4" width="2.80" height="2.80" fill="none" stroke="#8e1820" stroke-width="1.0"/><rect x="71.6" y="409.2" width="2.80" height="2.80" fill="none" stroke="#8e1820" stroke-width="1.0"/><rect x="75.0" y="409.5" width="2.80" height="2.80" fill="none" stroke="#8e1820" stroke-width="1.0"/><rect x="78.2" y="409.3" width="2.80" height="2.80" fill="none" stroke="#8e1820" stroke-width="1.0"/><rect x="81.7" y="409.9" width="2.80" height="2.80" fill="none" stroke="#8e1820" stroke-width="1.0"/><rect x="84.3" y="410.7" width="2.80" height="2.80" fill="none" stroke="#8e1820" stroke-width="1.0"/><rect x="87.5" y="415.0" width="2.80" height="2.80" fill="none" stroke="#8e1820" stroke-width="1.0"/><rect x="91.8" y="412.4" width="2.80" height="2.80" fill="none" stroke="#8e1820" stroke-width="1.0"/><rect x="95.8" y="416.7" width="2.80" height="2.80" fill="none" stroke="#8e1820" stroke-width="1.0"/><rect x="100.1" y="422.5" width="2.80" height="2.80" fill="none" stroke="#8e1820" stroke-width="1.0"/><rect x="104.6" y="430.8" width="2.80" height="2.80" fill="none" stroke="#8e1820" stroke-width="1.0"/><rect x="108.1" y="450.1" width="2.80" height="2.80" fill="none" stroke="#8e1820" stroke-width="1.0"/><rect x="112.6" y="465.6" width="2.80" height="2.80" fill="none" stroke="#8e1820" stroke-width="1.0"/><rect x="117.2" y="501.8" width="2.80" height="2.80" fill="none" stroke="#8e1820" stroke-width="1.0"/><rect x="121.4" y="533.2" width="2.80" height="2.80" fill="none" stroke="#8e1820" stroke-width="1.0"/><rect x="125.6" y="586.7" width="2.80" height="2.80" fill="none" stroke="#8e1820" stroke-width="1.0"/><rect x="135.3" y="617.0" width="2.80" height="2.80" fill="none" stroke="#8e1820" stroke-width="1.0"/><rect x="145.6" y="617.5" width="2.80" height="2.80" fill="none" stroke="#8e1820" stroke-width="1.0"/><rect x="156.0" y="616.7" width="2.80" height="2.80" fill="none" stroke="#8e1820" stroke-width="1.0"/><rect x="166.3" y="616.6" width="2.80" height="2.80" fill="none" stroke="#8e1820" stroke-width="1.0"/><rect x="176.6" y="616.8" width="2.80" height="2.80" fill="none" stroke="#8e1820" stroke-width="1.0"/><rect x="187.0" y="617.2" width="2.80" height="2.80" fill="none" stroke="#8e1820" stroke-width="1.0"/><rect x="197.3" y="617.4" width="2.80" height="2.80" fill="none" stroke="#8e1820" stroke-width="1.0"/><rect x="212.4" y="616.9" width="2.80" height="2.80" fill="none" stroke="#8e1820" stroke-width="1.0"/><rect x="217.4" y="616.9" width="2.80" height="2.80" fill="none" stroke="#8e1820" stroke-width="1.0"/><rect x="221.2" y="616.9" width="2.80" height="2.80" fill="none" stroke="#8e1820" stroke-width="1.0"/><rect x="225.0" y="616.9" width="2.80" height="2.80" fill="none" stroke="#8e1820" stroke-width="1.0"/><rect x="238.3" y="616.9" width="2.80" height="2.80" fill="none" stroke="#8e1820" stroke-width="1.0"/><rect x="251.4" y="616.9" width="2.80" height="2.80" fill="none" stroke="#8e1820" stroke-width="1.0"/><rect x="264.4" y="616.9" width="2.80" height="2.80" fill="none" stroke="#8e1820" stroke-width="1.0"/><rect x="277.7" y="616.9" width="2.80" height="2.80" fill="none" stroke="#8e1820" stroke-width="1.0"/><rect x="290.4" y="616.9" width="2.80" height="2.80" fill="none" stroke="#8e1820" stroke-width="1.0"/><rect x="303.0" y="616.9" width="2.80" height="2.80" fill="none" stroke="#8e1820" stroke-width="1.0"/><rect x="316.3" y="616.9" width="2.80" height="2.80" fill="none" stroke="#8e1820" stroke-width="1.0"/><rect x="329.3" y="616.9" width="2.80" height="2.80" fill="none" stroke="#8e1820" stroke-width="1.0"/><rect x="341.9" y="616.9" width="2.80" height="2.80" fill="none" stroke="#8e1820" stroke-width="1.0"/><rect x="355.0" y="616.9" width="2.80" height="2.80" fill="none" stroke="#8e1820" stroke-width="1.0"/><rect x="156.3" y="610.1" width="2.80" height="2.80" fill="none" stroke="#8e1820" stroke-width="1.0"/><rect x="168.9" y="612.6" width="2.80" height="2.80" fill="none" stroke="#8e1820" stroke-width="1.0"/><rect x="177.6" y="613.9" width="2.80" height="2.80" fill="none" stroke="#8e1820" stroke-width="1.0"/><rect x="195.2" y="613.4" width="2.80" height="2.80" fill="none" stroke="#8e1820" stroke-width="1.0"/></g>
<g><rect x="66.4" y="616.3" width="2.80" height="2.80" fill="none" stroke="#141414" stroke-width="1.0"/><rect x="73.3" y="616.3" width="2.80" height="2.80" fill="none" stroke="#141414" stroke-width="1.0"/><rect x="80.2" y="616.4" width="2.80" height="2.80" fill="none" stroke="#141414" stroke-width="1.0"/><rect x="87.1" y="616.6" width="2.80" height="2.80" fill="none" stroke="#141414" stroke-width="1.0"/><rect x="94.0" y="616.8" width="2.80" height="2.80" fill="none" stroke="#141414" stroke-width="1.0"/><rect x="100.9" y="616.3" width="2.80" height="2.80" fill="none" stroke="#141414" stroke-width="1.0"/><rect x="107.7" y="616.6" width="2.80" height="2.80" fill="none" stroke="#141414" stroke-width="1.0"/><rect x="114.6" y="616.4" width="2.80" height="2.80" fill="none" stroke="#141414" stroke-width="1.0"/><rect x="121.5" y="617.5" width="2.80" height="2.80" fill="none" stroke="#141414" stroke-width="1.0"/><rect x="128.4" y="617.1" width="2.80" height="2.80" fill="none" stroke="#141414" stroke-width="1.0"/><rect x="135.3" y="616.2" width="2.80" height="2.80" fill="none" stroke="#141414" stroke-width="1.0"/><rect x="142.2" y="617.4" width="2.80" height="2.80" fill="none" stroke="#141414" stroke-width="1.0"/><rect x="149.1" y="616.2" width="2.80" height="2.80" fill="none" stroke="#141414" stroke-width="1.0"/><rect x="156.0" y="616.6" width="2.80" height="2.80" fill="none" stroke="#141414" stroke-width="1.0"/><rect x="162.9" y="617.5" width="2.80" height="2.80" fill="none" stroke="#141414" stroke-width="1.0"/><rect x="169.7" y="617.2" width="2.80" height="2.80" fill="none" stroke="#141414" stroke-width="1.0"/><rect x="176.6" y="617.1" width="2.80" height="2.80" fill="none" stroke="#141414" stroke-width="1.0"/><rect x="183.5" y="616.7" width="2.80" height="2.80" fill="none" stroke="#141414" stroke-width="1.0"/><rect x="190.4" y="616.4" width="2.80" height="2.80" fill="none" stroke="#141414" stroke-width="1.0"/><rect x="197.3" y="617.0" width="2.80" height="2.80" fill="none" stroke="#141414" stroke-width="1.0"/><rect x="204.2" y="616.2" width="2.80" height="2.80" fill="none" stroke="#141414" stroke-width="1.0"/><rect x="204.9" y="613.9" width="2.80" height="2.80" fill="none" stroke="#141414" stroke-width="1.0"/><rect x="212.4" y="612.6" width="2.80" height="2.80" fill="none" stroke="#141414" stroke-width="1.0"/><rect x="217.4" y="611.3" width="2.80" height="2.80" fill="none" stroke="#141414" stroke-width="1.0"/><rect x="221.2" y="610.8" width="2.80" height="2.80" fill="none" stroke="#141414" stroke-width="1.0"/><rect x="225.0" y="610.1" width="2.80" height="2.80" fill="none" stroke="#141414" stroke-width="1.0"/><rect x="238.3" y="608.8" width="2.80" height="2.80" fill="none" stroke="#141414" stroke-width="1.0"/><rect x="251.4" y="604.3" width="2.80" height="2.80" fill="none" stroke="#141414" stroke-width="1.0"/><rect x="264.4" y="599.3" width="2.80" height="2.80" fill="none" stroke="#141414" stroke-width="1.0"/><rect x="277.7" y="595.8" width="2.80" height="2.80" fill="none" stroke="#141414" stroke-width="1.0"/><rect x="290.4" y="591.7" width="2.80" height="2.80" fill="none" stroke="#141414" stroke-width="1.0"/><rect x="303.0" y="586.7" width="2.80" height="2.80" fill="none" stroke="#141414" stroke-width="1.0"/><rect x="316.3" y="582.4" width="2.80" height="2.80" fill="none" stroke="#141414" stroke-width="1.0"/><rect x="329.3" y="580.7" width="2.80" height="2.80" fill="none" stroke="#141414" stroke-width="1.0"/><rect x="341.9" y="575.7" width="2.80" height="2.80" fill="none" stroke="#141414" stroke-width="1.0"/><rect x="355.0" y="574.2" width="2.80" height="2.80" fill="none" stroke="#141414" stroke-width="1.0"/><rect x="129.9" y="614.1" width="2.80" height="2.80" fill="none" stroke="#141414" stroke-width="1.0"/></g>
<g><path d="M65.1 618.6 L70.0 615.9 L70.0 621.3Z" fill="none" stroke="#e33cf0" stroke-width="1.1"/><path d="M68.5 618.4 L73.4 615.7 L73.4 621.1Z" fill="none" stroke="#e33cf0" stroke-width="1.1"/><path d="M71.9 618.0 L76.8 615.3 L76.8 620.7Z" fill="none" stroke="#e33cf0" stroke-width="1.1"/><path d="M75.3 618.2 L80.2 615.5 L80.2 620.9Z" fill="none" stroke="#e33cf0" stroke-width="1.1"/><path d="M78.8 617.6 L83.7 614.9 L83.7 620.3Z" fill="none" stroke="#e33cf0" stroke-width="1.1"/><path d="M82.2 616.8 L87.1 614.1 L87.1 619.5Z" fill="none" stroke="#e33cf0" stroke-width="1.1"/><path d="M85.7 616.0 L90.6 613.3 L90.6 618.7Z" fill="none" stroke="#e33cf0" stroke-width="1.1"/><path d="M88.8 614.7 L93.7 612.0 L93.7 617.4Z" fill="none" stroke="#e33cf0" stroke-width="1.1"/><path d="M93.8 610.2 L98.7 607.5 L98.7 612.9Z" fill="none" stroke="#e33cf0" stroke-width="1.1"/><path d="M97.6 605.7 L102.5 603.0 L102.5 608.4Z" fill="none" stroke="#e33cf0" stroke-width="1.1"/><path d="M103.1 597.1 L108.0 594.4 L108.0 599.8Z" fill="none" stroke="#e33cf0" stroke-width="1.1"/><path d="M106.4 578.8 L111.3 576.1 L111.3 581.5Z" fill="none" stroke="#e33cf0" stroke-width="1.1"/><path d="M111.8 561.5 L116.7 558.8 L116.7 564.2Z" fill="none" stroke="#e33cf0" stroke-width="1.1"/><path d="M115.6 525.6 L120.5 522.9 L120.5 528.3Z" fill="none" stroke="#e33cf0" stroke-width="1.1"/><path d="M120.1 494.0 L125.0 491.3 L125.0 496.7Z" fill="none" stroke="#e33cf0" stroke-width="1.1"/><path d="M124.8 441.5 L129.7 438.8 L129.7 444.2Z" fill="none" stroke="#e33cf0" stroke-width="1.1"/><path d="M129.3 414.6 L134.2 411.9 L134.2 417.3Z" fill="none" stroke="#e33cf0" stroke-width="1.1"/><path d="M133.6 410.6 L138.5 407.9 L138.5 413.3Z" fill="none" stroke="#e33cf0" stroke-width="1.1"/><path d="M136.9 410.6 L141.8 407.9 L141.8 413.3Z" fill="none" stroke="#e33cf0" stroke-width="1.1"/><path d="M139.9 410.6 L144.8 407.9 L144.8 413.3Z" fill="none" stroke="#e33cf0" stroke-width="1.1"/><path d="M142.9 410.6 L147.8 407.9 L147.8 413.3Z" fill="none" stroke="#e33cf0" stroke-width="1.1"/><path d="M146.2 410.6 L151.1 407.9 L151.1 413.3Z" fill="none" stroke="#e33cf0" stroke-width="1.1"/><path d="M149.4 410.6 L154.3 407.9 L154.3 413.3Z" fill="none" stroke="#e33cf0" stroke-width="1.1"/><path d="M151.9 410.6 L156.8 407.9 L156.8 413.3Z" fill="none" stroke="#e33cf0" stroke-width="1.1"/><path d="M155.0 417.6 L159.9 414.9 L159.9 420.3Z" fill="none" stroke="#e33cf0" stroke-width="1.1"/><path d="M159.5 412.1 L164.4 409.4 L164.4 414.8Z" fill="none" stroke="#e33cf0" stroke-width="1.1"/><path d="M163.8 410.1 L168.7 407.4 L168.7 412.8Z" fill="none" stroke="#e33cf0" stroke-width="1.1"/><path d="M168.0 414.6 L172.9 411.9 L172.9 417.3Z" fill="none" stroke="#e33cf0" stroke-width="1.1"/><path d="M172.6 410.1 L177.5 407.4 L177.5 412.8Z" fill="none" stroke="#e33cf0" stroke-width="1.1"/><path d="M176.3 412.1 L181.2 409.4 L181.2 414.8Z" fill="none" stroke="#e33cf0" stroke-width="1.1"/><path d="M181.3 410.1 L186.2 407.4 L186.2 412.8Z" fill="none" stroke="#e33cf0" stroke-width="1.1"/><path d="M185.1 412.6 L190.0 409.9 L190.0 415.3Z" fill="none" stroke="#e33cf0" stroke-width="1.1"/><path d="M189.6 411.3 L194.5 408.6 L194.5 414.0Z" fill="none" stroke="#e33cf0" stroke-width="1.1"/><path d="M192.7 413.8 L197.6 411.1 L197.6 416.5Z" fill="none" stroke="#e33cf0" stroke-width="1.1"/><path d="M196.4 414.6 L201.3 411.9 L201.3 417.3Z" fill="none" stroke="#e33cf0" stroke-width="1.1"/><path d="M202.2 410.6 L207.1 407.9 L207.1 413.3Z" fill="none" stroke="#e33cf0" stroke-width="1.1"/><path d="M207.2 413.8 L212.1 411.1 L212.1 416.5Z" fill="none" stroke="#e33cf0" stroke-width="1.1"/><path d="M210.7 414.6 L215.6 411.9 L215.6 417.3Z" fill="none" stroke="#e33cf0" stroke-width="1.1"/><path d="M214.8 413.8 L219.7 411.1 L219.7 416.5Z" fill="none" stroke="#e33cf0" stroke-width="1.1"/><path d="M218.8 414.8 L223.7 412.1 L223.7 417.5Z" fill="none" stroke="#e33cf0" stroke-width="1.1"/><path d="M223.7 415.6 L228.6 412.9 L228.6 418.3Z" fill="none" stroke="#e33cf0" stroke-width="1.1"/><path d="M237.0 419.6 L241.9 416.9 L241.9 422.3Z" fill="none" stroke="#e33cf0" stroke-width="1.1"/><path d="M250.1 422.1 L255.0 419.4 L255.0 424.8Z" fill="none" stroke="#e33cf0" stroke-width="1.1"/><path d="M263.1 428.9 L268.0 426.2 L268.0 431.6Z" fill="none" stroke="#e33cf0" stroke-width="1.1"/><path d="M276.4 432.7 L281.3 430.0 L281.3 435.4Z" fill="none" stroke="#e33cf0" stroke-width="1.1"/><path d="M289.1 437.6 L294.0 434.9 L294.0 440.3Z" fill="none" stroke="#e33cf0" stroke-width="1.1"/><path d="M302.2 445.2 L307.1 442.5 L307.1 447.9Z" fill="none" stroke="#e33cf0" stroke-width="1.1"/><path d="M315.0 454.0 L319.9 451.3 L319.9 456.7Z" fill="none" stroke="#e33cf0" stroke-width="1.1"/><path d="M328.0 459.7 L332.9 457.0 L332.9 462.4Z" fill="none" stroke="#e33cf0" stroke-width="1.1"/><path d="M341.1 467.3 L346.0 464.6 L346.0 470.0Z" fill="none" stroke="#e33cf0" stroke-width="1.1"/><path d="M353.7 476.6 L358.6 473.9 L358.6 479.3Z" fill="none" stroke="#e33cf0" stroke-width="1.1"/></g>
<g><circle cx="67.8" cy="618.1" r="1.65" fill="none" stroke="#fa1238" stroke-width="1.05"/><circle cx="71.3" cy="618.0" r="1.65" fill="none" stroke="#fa1238" stroke-width="1.05"/><circle cx="74.7" cy="618.5" r="1.65" fill="none" stroke="#fa1238" stroke-width="1.05"/><circle cx="78.2" cy="618.3" r="1.65" fill="none" stroke="#fa1238" stroke-width="1.05"/><circle cx="81.6" cy="617.9" r="1.65" fill="none" stroke="#fa1238" stroke-width="1.05"/><circle cx="85.0" cy="618.4" r="1.65" fill="none" stroke="#fa1238" stroke-width="1.05"/><circle cx="88.5" cy="617.9" r="1.65" fill="none" stroke="#fa1238" stroke-width="1.05"/><circle cx="91.9" cy="618.6" r="1.65" fill="none" stroke="#fa1238" stroke-width="1.05"/><circle cx="95.4" cy="618.5" r="1.65" fill="none" stroke="#fa1238" stroke-width="1.05"/><circle cx="98.8" cy="618.6" r="1.65" fill="none" stroke="#fa1238" stroke-width="1.05"/><circle cx="102.3" cy="618.4" r="1.65" fill="none" stroke="#fa1238" stroke-width="1.05"/><circle cx="105.7" cy="618.2" r="1.65" fill="none" stroke="#fa1238" stroke-width="1.05"/><circle cx="109.1" cy="618.2" r="1.65" fill="none" stroke="#fa1238" stroke-width="1.05"/><circle cx="112.6" cy="618.2" r="1.65" fill="none" stroke="#fa1238" stroke-width="1.05"/><circle cx="116.0" cy="618.7" r="1.65" fill="none" stroke="#fa1238" stroke-width="1.05"/><circle cx="119.5" cy="617.9" r="1.65" fill="none" stroke="#fa1238" stroke-width="1.05"/><circle cx="122.9" cy="618.7" r="1.65" fill="none" stroke="#fa1238" stroke-width="1.05"/><circle cx="126.4" cy="617.8" r="1.65" fill="none" stroke="#fa1238" stroke-width="1.05"/><circle cx="129.8" cy="618.0" r="1.65" fill="none" stroke="#fa1238" stroke-width="1.05"/><circle cx="133.3" cy="618.1" r="1.65" fill="none" stroke="#fa1238" stroke-width="1.05"/><circle cx="136.7" cy="618.7" r="1.65" fill="none" stroke="#fa1238" stroke-width="1.05"/><circle cx="140.1" cy="618.3" r="1.65" fill="none" stroke="#fa1238" stroke-width="1.05"/><circle cx="143.6" cy="618.2" r="1.65" fill="none" stroke="#fa1238" stroke-width="1.05"/><circle cx="147.0" cy="618.7" r="1.65" fill="none" stroke="#fa1238" stroke-width="1.05"/><circle cx="150.5" cy="618.0" r="1.65" fill="none" stroke="#fa1238" stroke-width="1.05"/><circle cx="153.9" cy="618.3" r="1.65" fill="none" stroke="#fa1238" stroke-width="1.05"/><circle cx="157.4" cy="618.3" r="1.65" fill="none" stroke="#fa1238" stroke-width="1.05"/><circle cx="160.8" cy="618.6" r="1.65" fill="none" stroke="#fa1238" stroke-width="1.05"/><circle cx="164.3" cy="618.6" r="1.65" fill="none" stroke="#fa1238" stroke-width="1.05"/><circle cx="167.7" cy="618.4" r="1.65" fill="none" stroke="#fa1238" stroke-width="1.05"/><circle cx="171.1" cy="618.1" r="1.65" fill="none" stroke="#fa1238" stroke-width="1.05"/><circle cx="174.6" cy="618.1" r="1.65" fill="none" stroke="#fa1238" stroke-width="1.05"/><circle cx="178.0" cy="618.0" r="1.65" fill="none" stroke="#fa1238" stroke-width="1.05"/><circle cx="181.5" cy="618.6" r="1.65" fill="none" stroke="#fa1238" stroke-width="1.05"/><circle cx="184.9" cy="618.5" r="1.65" fill="none" stroke="#fa1238" stroke-width="1.05"/><circle cx="188.4" cy="618.5" r="1.65" fill="none" stroke="#fa1238" stroke-width="1.05"/><circle cx="191.8" cy="618.0" r="1.65" fill="none" stroke="#fa1238" stroke-width="1.05"/><circle cx="195.2" cy="618.2" r="1.65" fill="none" stroke="#fa1238" stroke-width="1.05"/><circle cx="198.7" cy="618.6" r="1.65" fill="none" stroke="#fa1238" stroke-width="1.05"/><circle cx="202.1" cy="618.4" r="1.65" fill="none" stroke="#fa1238" stroke-width="1.05"/><circle cx="205.6" cy="617.9" r="1.65" fill="none" stroke="#fa1238" stroke-width="1.05"/><circle cx="213.8" cy="618.2" r="1.65" fill="none" stroke="#fa1238" stroke-width="1.05"/><circle cx="218.8" cy="618.2" r="1.65" fill="none" stroke="#fa1238" stroke-width="1.05"/><circle cx="222.6" cy="618.2" r="1.65" fill="none" stroke="#fa1238" stroke-width="1.05"/><circle cx="226.4" cy="618.2" r="1.65" fill="none" stroke="#fa1238" stroke-width="1.05"/><circle cx="239.7" cy="618.2" r="1.65" fill="none" stroke="#fa1238" stroke-width="1.05"/><circle cx="252.8" cy="618.2" r="1.65" fill="none" stroke="#fa1238" stroke-width="1.05"/><circle cx="265.8" cy="618.2" r="1.65" fill="none" stroke="#fa1238" stroke-width="1.05"/><circle cx="279.1" cy="618.2" r="1.65" fill="none" stroke="#fa1238" stroke-width="1.05"/><circle cx="291.8" cy="616.5" r="1.65" fill="none" stroke="#fa1238" stroke-width="1.05"/><circle cx="304.4" cy="613.2" r="1.65" fill="none" stroke="#fa1238" stroke-width="1.05"/><circle cx="317.7" cy="609.7" r="1.65" fill="none" stroke="#fa1238" stroke-width="1.05"/><circle cx="330.2" cy="605.2" r="1.65" fill="none" stroke="#fa1238" stroke-width="1.05"/><circle cx="343.3" cy="602.7" r="1.65" fill="none" stroke="#fa1238" stroke-width="1.05"/><circle cx="356.4" cy="595.7" r="1.65" fill="none" stroke="#fa1238" stroke-width="1.05"/><circle cx="88.2" cy="614.7" r="1.65" fill="none" stroke="#fa1238" stroke-width="1.05"/></g>
<g stroke="#0c0c0c" stroke-width="1.15" fill="none">
<path d="M50.4 399.6V630"/><path d="M49.8 629.4H361.2"/>
<path d="M45.4 619.0H50.4"/>
<path d="M47.6 598.1H50.4"/>
<path d="M45.4 577.1H50.4"/>
<path d="M47.6 556.2H50.4"/>
<path d="M45.4 535.3H50.4"/>
<path d="M47.6 514.4H50.4"/>
<path d="M45.4 493.4H50.4"/>
<path d="M47.6 472.5H50.4"/>
<path d="M45.4 451.6H50.4"/>
<path d="M47.6 430.6H50.4"/>
<path d="M45.4 409.7H50.4"/>
<path d="M50.6 629.4V633.6"/>
<path d="M67.8 629.4V631.8"/>
<path d="M85.0 629.4V633.6"/>
<path d="M102.3 629.4V631.8"/>
<path d="M119.5 629.4V633.6"/>
<path d="M136.7 629.4V631.8"/>
<path d="M153.9 629.4V633.6"/>
<path d="M171.1 629.4V631.8"/>
<path d="M188.4 629.4V633.6"/>
<path d="M205.6 629.4V631.8"/>
<path d="M222.8 629.4V633.6"/>
<path d="M240.0 629.4V631.8"/>
<path d="M257.2 629.4V633.6"/>
<path d="M274.5 629.4V631.8"/>
<path d="M291.7 629.4V633.6"/>
<path d="M308.9 629.4V631.8"/>
<path d="M326.1 629.4V633.6"/>
<path d="M343.3 629.4V631.8"/>
<path d="M360.6 629.4V633.6"/>
</g>
<g font-size="7.6px" fill="#000" stroke="#000" stroke-width="0.2" text-anchor="end">
<text x="42.4" y="621.6">0</text>
<text x="42.4" y="579.7">20</text>
<text x="42.4" y="537.9">40</text>
<text x="42.4" y="496.0">60</text>
<text x="42.4" y="454.2">80</text>
<text x="42.4" y="412.3">100</text>
</g>
<g font-size="7.4px" fill="#000" stroke="#000" stroke-width="0.2" text-anchor="middle">
<text x="51.1" y="642.7">13.4</text>
<text x="85.5" y="642.7">13.6</text>
<text x="120.0" y="642.7">13.8</text>
<text x="154.4" y="642.7">14.0</text>
<text x="188.9" y="642.7">14.2</text>
<text x="223.3" y="642.7">14.4</text>
<text x="257.7" y="642.7">14.6</text>
<text x="292.2" y="642.7">14.8</text>
<text x="326.6" y="642.7">15.0</text>
<text x="361.1" y="642.7">15.2</text>
</g>
<g transform="translate(26.30,506.50) rotate(-90) translate(-56.70,0) scale(1.0474,1)"><text id="t15" font-size="9.2px" fill="#111" stroke="#111" stroke-width="0.28" font-weight="normal" xml:space="preserve">Fractional Abundance  (%)</text></g>
<text x="14" y="405" font-size="13.6px" fill="#111" style="font-family:'Liberation Serif', 'Times New Roman', serif">b)</text>
<g transform="translate(191.40,654.30) scale(1.0805,1)"><text id="t16" font-size="8.6px" fill="#111" stroke="#111" stroke-width="0.28" font-weight="normal" xml:space="preserve"><tspan font-style="italic">hν</tspan> / eV</text></g>
<g transform="translate(60.30,424.20) scale(0.8832,1)"><text id="t17" font-size="10.6px" fill="#8e1820" stroke="#8e1820" stroke-width="0.28" font-weight="bold" xml:space="preserve"><tspan font-size="10.6px" dy="0.00">C</tspan><tspan font-size="7.2px" dy="2.12">2</tspan><tspan font-size="10.6px" dy="-2.12">HF</tspan><tspan font-size="7.2px" dy="2.12">3</tspan><tspan font-size="7.2px" dy="-5.62">+</tspan></text></g>
<g transform="translate(206.30,429.90) scale(0.8827,1)"><text id="t18" font-size="10.4px" fill="#e33cf0" stroke="#e33cf0" stroke-width="0.28" font-weight="bold" xml:space="preserve"><tspan font-size="10.4px" dy="0.00">CHF</tspan><tspan font-size="7.1px" dy="2.08">2</tspan><tspan font-size="7.1px" dy="-5.51">+</tspan></text></g>
<g transform="translate(340.80,572.20) scale(0.8628,1)"><text id="t19" font-size="10.2px" fill="#111" stroke="#111" stroke-width="0.28" font-weight="bold" xml:space="preserve"><tspan font-size="10.2px" dy="0.00">CF</tspan><tspan font-size="6.9px" dy="-3.37">+</tspan></text></g>
<g transform="translate(297.60,606.70) scale(0.9042,1)"><text id="t20" font-size="10.2px" fill="#e81438" stroke="#e81438" stroke-width="0.28" font-weight="bold" xml:space="preserve"><tspan font-size="10.2px" dy="0.00">CHF</tspan><tspan font-size="6.9px" dy="-3.37">+</tspan></text></g>
<g transform="translate(131.30,533.80) scale(0.9892,1)"><text id="t21" font-size="11.5px" fill="#e33cf0" stroke="#e33cf0" stroke-width="0.28" font-weight="normal" xml:space="preserve"><tspan font-style="italic">E</tspan><tspan font-size="7.6px" dy="2">0</tspan><tspan dy="-2"> = 13.856 eV</tspan></text></g>
<g transform="translate(143.90,579.40) scale(0.9896,1)"><text id="t22" font-size="11.5px" fill="#141414" stroke="#141414" stroke-width="0.28" font-weight="normal" xml:space="preserve"><tspan font-style="italic">E</tspan><tspan font-size="7.6px" dy="2">0</tspan><tspan dy="-2"> = 14.16 eV</tspan></text></g>
<g transform="translate(223.10,579.40) scale(0.9843,1)"><text id="t23" font-size="11.5px" fill="#e81438" stroke="#e81438" stroke-width="0.28" font-weight="normal" xml:space="preserve"><tspan font-style="italic">E</tspan><tspan font-size="7.6px" dy="2">0</tspan><tspan dy="-2"> = 14.54 eV</tspan></text></g>
<path d="M132.1 537.6V598.4" stroke="#e33cf0" stroke-width="1.1"/>
<path d="M132.1 601.4L129.7 595.2L134.5 595.2Z" fill="#e33cf0"/>
<path d="M181.0 577.6V610.2" stroke="#141414" stroke-width="1.1"/>
<path d="M181.0 613.2L178.6 607.0L183.4 607.0Z" fill="#141414"/>
<path d="M249.0 582.0V610.2" stroke="#e81438" stroke-width="1.1"/>
<path d="M249.0 613.2L246.6 607.0L251.4 607.0Z" fill="#e81438"/>
</svg></body></html>
